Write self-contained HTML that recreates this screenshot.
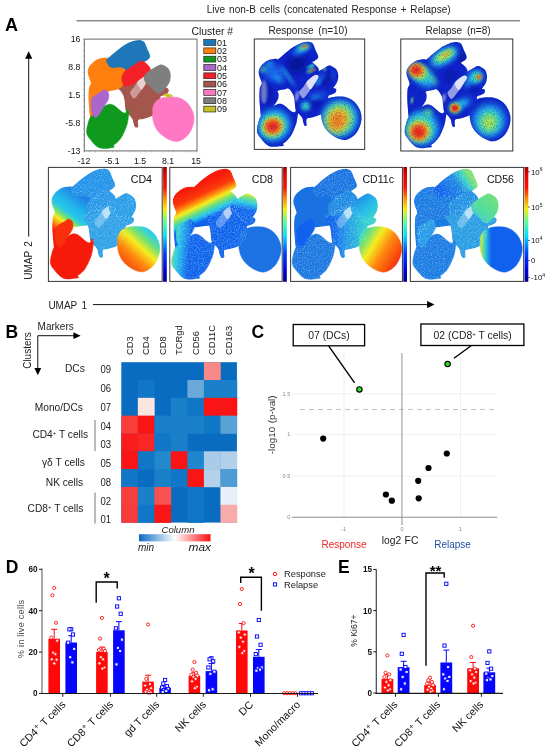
<!DOCTYPE html>
<html lang="en"><head><meta charset="utf-8"><title>Figure</title>
<style>
html,body{margin:0;padding:0;background:#fff}
svg{display:block}
svg{fill:#222}
text{font-family:"Liberation Sans",Arial,sans-serif}
.b{font-weight:bold;fill:#000}
</style></head><body>
<svg width="550" height="753" viewBox="0 0 550 753">
<rect width="550" height="753" fill="#fff"/>
<defs>
<path id="c_blue" d="M106.8 60.3C107.3 59.1 109.4 57.9 111.2 56.3C113.1 54.6 115.5 52.4 117.8 50.6C120.0 48.9 122.4 47.1 124.7 45.6C127.1 44.2 129.5 42.9 131.8 42.1C134.1 41.2 136.7 40.6 138.6 40.6C140.5 40.5 142.2 41.2 143.3 42.0C144.4 42.8 144.8 44.1 145.4 45.4C146.0 46.6 146.2 48.1 146.8 49.4C147.4 50.8 148.4 52.3 148.8 53.5C149.3 54.8 149.8 55.9 149.5 56.9C149.2 58.0 148.0 58.9 146.9 59.7C145.9 60.5 144.4 61.1 143.1 61.9C141.7 62.6 140.4 63.1 139.1 64.1C137.7 65.1 136.1 66.6 134.7 67.7C133.4 68.9 132.3 70.4 131.1 71.0C129.9 71.7 128.7 72.1 127.6 71.6C126.5 71.2 126.1 69.2 124.7 68.3C123.3 67.5 121.0 66.9 119.2 66.7C117.4 66.5 115.5 67.3 114.0 67.2C112.5 67.2 111.1 67.0 110.1 66.4C109.1 65.8 108.7 64.7 108.1 63.7C107.6 62.7 106.3 61.6 106.8 60.3Z"/>
<path id="c_orange" d="M88.7 69.5C89.0 68.2 89.8 66.7 90.8 65.5C91.7 64.3 92.9 63.2 94.2 62.2C95.4 61.2 96.9 60.1 98.3 59.6C99.6 59.0 100.8 58.8 102.3 58.6C103.8 58.4 105.9 58.0 107.0 58.3C108.1 58.5 108.5 59.2 109.0 60.2C109.6 61.2 109.3 63.2 110.5 64.1C111.6 64.9 114.1 65.3 115.9 65.5C117.6 65.7 119.5 64.7 121.1 65.0C122.7 65.3 124.7 66.1 125.7 67.1C126.7 68.1 127.3 69.8 127.1 71.1C126.9 72.4 124.9 73.7 124.6 75.0C124.3 76.4 125.5 77.6 125.3 79.1C125.1 80.5 124.2 82.5 123.4 83.8C122.5 85.2 121.5 86.3 120.2 87.3C118.9 88.2 117.4 88.9 115.6 89.5C113.8 90.0 111.2 89.9 109.5 90.5C107.8 91.1 106.5 92.2 105.1 93.3C103.7 94.4 102.2 95.8 100.9 97.1C99.5 98.4 97.9 99.4 96.8 100.9C95.7 102.3 94.8 104.2 94.3 105.9C93.7 107.6 93.9 109.3 93.7 111.0C93.5 112.8 93.6 115.2 93.1 116.2C92.6 117.1 91.3 118.1 90.7 116.8C90.2 115.5 90.0 111.1 89.8 108.4C89.5 105.7 89.3 103.3 89.2 100.7C89.1 98.1 89.1 95.0 89.2 92.8C89.3 90.5 89.3 88.9 89.7 87.3C90.1 85.8 91.5 84.8 91.5 83.2C91.5 81.5 90.2 79.2 89.7 77.6C89.2 76.0 88.7 74.9 88.5 73.5C88.3 72.2 88.3 70.8 88.7 69.5Z"/>
<path id="c_red" d="M123.3 74.2C124.1 72.9 125.3 71.7 126.6 70.5C127.9 69.4 129.4 68.4 130.9 67.4C132.4 66.4 133.9 65.6 135.5 64.6C137.0 63.6 139.0 61.9 140.4 61.5C141.8 61.1 142.7 61.7 143.9 62.3C145.0 62.9 146.3 64.1 147.3 65.1C148.4 66.2 149.7 67.5 150.0 68.7C150.4 69.8 150.2 71.1 149.5 72.1C148.7 73.2 147.0 74.1 145.7 75.0C144.4 75.8 143.1 76.4 141.7 77.4C140.2 78.3 138.5 79.5 137.0 80.5C135.5 81.6 134.0 82.9 132.5 83.7C131.1 84.5 129.7 85.1 128.4 85.5C127.2 85.9 126.0 86.5 125.1 86.0C124.1 85.5 123.4 83.8 122.9 82.6C122.4 81.3 122.1 79.8 122.1 78.4C122.2 77.0 122.6 75.5 123.3 74.2Z"/>
<path id="c_grey" d="M145.3 75.1C146.1 73.9 147.8 72.6 149.4 71.4C151.1 70.2 153.3 68.9 155.2 67.8C157.1 66.8 159.2 65.2 160.8 65.0C162.5 64.8 163.7 66.0 165.0 66.7C166.3 67.4 167.7 68.1 168.5 69.5C169.4 70.9 169.9 73.2 170.1 75.1C170.2 76.9 170.0 78.9 169.5 80.7C168.9 82.5 167.6 84.4 166.7 85.8C165.7 87.2 164.8 88.2 163.8 89.3C162.7 90.4 161.4 92.2 160.1 92.6C158.8 93.1 157.1 92.7 155.9 92.0C154.7 91.4 154.1 89.9 153.0 88.7C151.9 87.6 150.5 86.2 149.3 85.1C148.1 84.0 146.7 83.2 145.9 82.1C145.1 81.1 144.7 79.8 144.6 78.6C144.5 77.4 144.5 76.3 145.3 75.1Z"/>
<path id="c_pink" d="M152.8 107.5C153.2 106.0 154.0 104.2 154.9 102.9C155.7 101.6 156.7 100.5 158.2 99.6C159.6 98.8 161.3 98.1 163.4 97.6C165.5 97.2 168.3 96.9 170.7 96.9C173.1 96.9 175.7 97.0 178.0 97.6C180.2 98.1 182.1 99.1 183.9 100.2C185.7 101.3 187.2 102.7 188.5 104.2C189.8 105.8 190.9 107.6 191.8 109.5C192.7 111.4 193.5 113.4 193.8 115.5C194.1 117.5 194.1 119.9 193.8 122.1C193.5 124.3 192.7 126.6 191.8 128.7C190.9 130.7 189.9 132.8 188.5 134.6C187.0 136.3 185.1 138.0 183.2 139.2C181.3 140.3 179.2 141.3 177.3 141.5C175.3 141.8 173.2 141.1 171.3 140.5C169.5 139.9 167.8 139.0 166.0 137.9C164.3 136.9 162.3 135.4 160.7 134.0C159.2 132.6 157.8 131.0 156.7 129.4C155.6 127.7 154.7 126.0 154.1 124.1C153.4 122.2 153.0 120.1 152.7 118.1C152.5 116.1 152.8 113.9 152.8 112.1C152.8 110.4 152.5 109.1 152.8 107.5Z"/>
<path id="c_purple" d="M91.9 98.5C92.7 97.0 94.1 96.0 95.5 94.9C96.9 93.9 99.1 93.1 100.5 92.3C101.9 91.4 102.8 90.0 103.9 89.8C105.1 89.6 106.5 90.4 107.3 91.2C108.2 91.9 108.6 93.1 108.8 94.5C109.0 95.8 108.7 97.8 108.4 99.2C108.0 100.6 107.3 101.5 106.5 102.8C105.8 104.0 104.6 105.4 103.7 106.7C102.8 108.0 102.0 109.5 101.3 110.8C100.5 112.1 99.9 113.6 99.1 114.6C98.3 115.7 97.3 116.8 96.4 117.2C95.5 117.5 94.4 117.5 93.7 116.5C92.9 115.5 92.1 113.2 91.7 111.2C91.3 109.1 91.2 106.3 91.2 104.2C91.2 102.1 91.2 100.1 91.9 98.5Z"/>
<path id="c_green" d="M89.8 118.3C90.6 116.8 91.3 116.0 92.4 115.5C93.5 115.1 95.0 116.4 96.4 115.4C97.7 114.4 99.2 110.9 100.6 109.4C101.9 107.8 103.2 107.0 104.7 106.1C106.1 105.2 107.8 104.3 109.4 104.2C111.0 104.1 112.7 104.7 114.1 105.5C115.6 106.2 116.9 107.7 118.2 108.8C119.6 109.9 121.1 111.5 122.3 112.2C123.5 112.8 124.7 113.4 125.6 112.9C126.4 112.4 126.9 109.2 127.4 109.0C128.0 108.8 128.7 110.2 128.8 111.7C128.9 113.1 128.6 115.5 128.3 117.6C128.0 119.7 127.7 122.1 127.1 124.4C126.5 126.6 125.5 128.9 124.5 131.2C123.5 133.5 122.3 136.1 121.0 138.0C119.8 139.9 118.1 141.5 116.9 142.7C115.6 143.9 113.9 144.6 113.5 145.3C113.0 146.1 114.7 146.8 114.1 147.3C113.5 147.7 111.6 147.7 110.1 147.9C108.5 148.1 106.5 148.6 104.7 148.5C102.9 148.5 101.0 148.5 99.3 147.8C97.7 147.2 96.1 145.8 94.6 144.5C93.2 143.2 91.8 141.4 90.6 139.8C89.4 138.3 87.9 136.7 87.3 135.1C86.6 133.6 86.5 132.2 86.6 130.4C86.6 128.6 87.3 126.4 87.8 124.4C88.3 122.4 89.0 119.8 89.8 118.3Z"/>
<path id="c_brown" d="M117.4 87.1C117.7 85.8 120.6 84.0 122.7 82.8C124.8 81.5 127.6 80.5 130.1 79.4C132.6 78.3 135.0 77.6 137.7 76.2C140.4 74.9 144.1 70.9 146.2 71.2C148.4 71.6 148.9 75.7 150.6 78.3C152.3 80.9 153.9 85.1 156.2 86.7C158.6 88.3 162.6 87.7 164.5 88.1C166.5 88.5 167.5 88.5 167.9 89.2C168.4 90.0 168.0 91.8 167.3 92.7C166.6 93.6 164.7 94.1 163.5 94.7C162.3 95.2 160.8 95.1 160.2 96.0C159.6 96.9 159.8 98.3 159.8 99.9C159.8 101.4 160.6 103.5 160.3 105.4C159.9 107.3 159.0 109.8 157.5 111.5C156.0 113.2 153.9 114.4 151.5 115.5C149.1 116.6 145.4 117.7 143.2 118.3C141.0 118.9 139.2 118.6 138.2 119.3C137.2 119.9 137.4 121.2 137.3 122.3C137.2 123.5 137.9 125.5 137.7 126.3C137.4 127.0 136.2 127.3 135.6 126.8C135.1 126.4 134.5 124.8 134.2 123.6C133.8 122.4 133.9 120.9 133.4 119.7C132.9 118.5 132.1 117.4 131.2 116.3C130.4 115.3 129.2 114.6 128.3 113.6C127.5 112.5 126.7 111.8 126.2 110.1C125.7 108.3 125.8 105.3 125.4 103.0C125.1 100.6 124.9 98.1 124.2 96.0C123.5 93.9 122.2 92.1 121.1 90.6C120.0 89.1 117.2 88.4 117.4 87.1Z"/>
<path id="c_olive" d="M163.7 94.8C163.6 94.2 166.7 93.7 168.2 93.9C169.7 94.1 172.5 95.2 172.6 95.8C172.7 96.4 170.3 97.5 168.8 97.3C167.3 97.2 163.8 95.4 163.7 94.8Z"/>
<path id="c_notch" d="M130.0 92.5C129.9 91.4 130.8 91.0 131.5 90.0C132.2 89.0 133.3 88.2 134.3 86.8C135.3 85.4 136.4 83.1 137.7 81.6C139.0 80.0 140.8 78.6 142.3 77.5C143.9 76.4 145.8 75.1 147.0 75.0C148.2 74.9 149.8 75.5 149.5 77.0C149.2 78.5 146.9 81.8 145.5 84.0C144.1 86.2 142.4 88.5 141.0 90.5C139.6 92.5 138.2 94.7 137.0 96.0C135.8 97.3 134.9 98.4 134.0 98.5C133.1 98.6 132.5 97.5 131.8 96.5C131.1 95.5 130.1 93.6 130.0 92.5Z"/>
<path id="c_notchtop" d="M138.0 81.2C138.8 80.1 140.8 78.3 142.3 77.2C143.8 76.1 145.7 74.7 147.0 74.6C148.3 74.5 150.2 75.1 150.0 76.6C149.8 78.1 147.3 81.3 146.0 83.5C144.7 85.7 143.1 88.8 142.0 89.5C140.9 90.2 140.2 88.4 139.5 87.5C138.8 86.6 137.8 85.0 137.5 84.0C137.2 83.0 137.2 82.3 138.0 81.2Z"/>
<path id="c_filler" d="M100.0 86.0C102.0 84.5 108.0 86.0 112.0 86.0C116.0 86.0 121.8 84.6 124.0 86.0C126.2 87.4 126.5 92.8 125.5 94.5C124.5 96.2 121.2 96.0 118.0 96.5C114.8 97.0 109.0 97.8 106.0 97.5C103.0 97.2 101.0 96.9 100.0 95.0C99.0 93.1 98.0 87.5 100.0 86.0Z"/>
<clipPath id="cp_blue"><use href="#c_blue"/></clipPath>
<clipPath id="cp_orange"><use href="#c_orange"/></clipPath>
<clipPath id="cp_red"><use href="#c_red"/></clipPath>
<clipPath id="cp_grey"><use href="#c_grey"/></clipPath>
<clipPath id="cp_pink"><use href="#c_pink"/></clipPath>
<clipPath id="cp_purple"><use href="#c_purple"/></clipPath>
<clipPath id="cp_green"><use href="#c_green"/></clipPath>
<clipPath id="cp_brown"><use href="#c_brown"/></clipPath>
<clipPath id="sil">
<use href="#c_blue"/>
<use href="#c_orange"/>
<use href="#c_red"/>
<use href="#c_grey"/>
<use href="#c_pink"/>
<use href="#c_purple"/>
<use href="#c_green"/>
<use href="#c_brown"/>
</clipPath>
<filter id="bl2" x="-30%" y="-30%" width="160%" height="160%"><feGaussianBlur stdDeviation="2"/></filter>
<filter id="bl3" x="-30%" y="-30%" width="160%" height="160%"><feGaussianBlur stdDeviation="3.2"/></filter>
<filter id="nz" x="0" y="0" width="100%" height="100%"><feTurbulence type="fractalNoise" baseFrequency="0.85" numOctaves="2" seed="3" result="t"/><feColorMatrix in="t" type="matrix" values="0 0 0 0 0.55  0 0 0 0 0.95  0 0 0 0 0.9  0 0 0 2.6 -1.15"/></filter>
<filter id="nzd" x="0" y="0" width="100%" height="100%"><feTurbulence type="fractalNoise" baseFrequency="0.9" numOctaves="2" seed="8" result="t"/><feColorMatrix in="t" type="matrix" values="0 0 0 0 0.02  0 0 0 0 0.03  0 0 0 0 0.5  0 0 0 2.8 -1.2"/></filter>
<filter id="bl1" x="-30%" y="-30%" width="160%" height="160%"><feGaussianBlur stdDeviation="1.1"/></filter>
<linearGradient id="jetbar" gradientUnits="objectBoundingBox" x1="0.0" y1="0.0" x2="0.0" y2="1.0"><stop offset="0.000" stop-color="#900000"/><stop offset="0.050" stop-color="#e00000"/><stop offset="0.180" stop-color="#ff1000"/><stop offset="0.280" stop-color="#ff9000"/><stop offset="0.370" stop-color="#f0f000"/><stop offset="0.470" stop-color="#60ff90"/><stop offset="0.600" stop-color="#00e0ff"/><stop offset="0.750" stop-color="#0040ff"/><stop offset="0.900" stop-color="#0000e0"/><stop offset="1.000" stop-color="#00008f"/></linearGradient>
<linearGradient id="cd4_orange" gradientUnits="userSpaceOnUse" x1="116.0" y1="66.0" x2="86.0" y2="106.0"><stop offset="0.000" stop-color="#1f7fe6"/><stop offset="0.250" stop-color="#22b4ea"/><stop offset="0.420" stop-color="#28c8e8"/><stop offset="0.520" stop-color="#6fe07a"/><stop offset="0.620" stop-color="#f4ee20"/><stop offset="0.740" stop-color="#ff8a10"/><stop offset="0.860" stop-color="#f81a0a"/><stop offset="1.000" stop-color="#f81a0a"/></linearGradient>
<linearGradient id="cd4_pink" gradientUnits="userSpaceOnUse" x1="192.0" y1="100.0" x2="158.0" y2="138.0"><stop offset="0.000" stop-color="#2a8cf0"/><stop offset="0.140" stop-color="#2ad0e8"/><stop offset="0.300" stop-color="#6fe07a"/><stop offset="0.470" stop-color="#f4ee20"/><stop offset="0.680" stop-color="#ff8a10"/><stop offset="1.000" stop-color="#f83a10"/></linearGradient>
<linearGradient id="cd8_main" gradientUnits="userSpaceOnUse" x1="115.1" y1="54.5" x2="130.3" y2="86.3"><stop offset="0.000" stop-color="#f81a0a"/><stop offset="0.280" stop-color="#fa3a0a"/><stop offset="0.420" stop-color="#ff8a10"/><stop offset="0.550" stop-color="#f4ee20"/><stop offset="0.690" stop-color="#6fe07a"/><stop offset="0.830" stop-color="#28c8e8"/><stop offset="0.970" stop-color="#1062ee"/><stop offset="1.000" stop-color="#1062ee"/></linearGradient>
<linearGradient id="cd8_grey" gradientUnits="userSpaceOnUse" x1="160.0" y1="64.0" x2="156.0" y2="84.0"><stop offset="0.000" stop-color="#f4ee20"/><stop offset="0.200" stop-color="#6fe07a"/><stop offset="0.450" stop-color="#28c8e8"/><stop offset="0.800" stop-color="#1062ee"/><stop offset="1.000" stop-color="#1062ee"/></linearGradient>
<linearGradient id="cd8_green" gradientUnits="userSpaceOnUse" x1="86.0" y1="120.0" x2="104.0" y2="122.0"><stop offset="0.000" stop-color="#6fe07a"/><stop offset="0.350" stop-color="#28c8e8"/><stop offset="1.000" stop-color="#1062ee"/></linearGradient>
<linearGradient id="c11_pink" gradientUnits="userSpaceOnUse" x1="154.0" y1="104.0" x2="192.0" y2="128.0"><stop offset="0.000" stop-color="#38d8c0"/><stop offset="0.140" stop-color="#6fe07a"/><stop offset="0.360" stop-color="#f4ee20"/><stop offset="0.620" stop-color="#ff8a10"/><stop offset="1.000" stop-color="#f8360c"/></linearGradient>
<linearGradient id="c11_grey" gradientUnits="userSpaceOnUse" x1="150.0" y1="70.0" x2="168.0" y2="92.0"><stop offset="0.000" stop-color="#2090e8"/><stop offset="0.500" stop-color="#28c0e8"/><stop offset="1.000" stop-color="#40dcc0"/></linearGradient>
<linearGradient id="c11_brown" gradientUnits="userSpaceOnUse" x1="126.0" y1="100.0" x2="160.0" y2="100.0"><stop offset="0.000" stop-color="#1062ee"/><stop offset="0.400" stop-color="#2498e8"/><stop offset="1.000" stop-color="#30d0d0"/></linearGradient>
<linearGradient id="c56_grey" gradientUnits="userSpaceOnUse" x1="146.0" y1="90.0" x2="166.0" y2="68.0"><stop offset="0.000" stop-color="#30b8e0"/><stop offset="0.400" stop-color="#50dca0"/><stop offset="1.000" stop-color="#70e080"/></linearGradient>
<linearGradient id="c56_blue" gradientUnits="userSpaceOnUse" x1="120.0" y1="70.0" x2="146.0" y2="52.0"><stop offset="0.000" stop-color="#1062ee"/><stop offset="0.550" stop-color="#2088e6"/><stop offset="0.800" stop-color="#38d0c8"/><stop offset="1.000" stop-color="#80e070"/></linearGradient>
<linearGradient id="c56_pink" gradientUnits="userSpaceOnUse" x1="154.0" y1="118.0" x2="170.0" y2="118.0"><stop offset="0.000" stop-color="#b0e850"/><stop offset="0.250" stop-color="#30c8d8"/><stop offset="0.600" stop-color="#1062ee"/><stop offset="1.000" stop-color="#1062ee"/></linearGradient>
<linearGradient id="hm" x1="0" y1="0" x2="1" y2="0"><stop offset="0" stop-color="#0a6cc4"/><stop offset="0.5" stop-color="#ffffff"/><stop offset="1" stop-color="#fa1010"/></linearGradient>
</defs>
<text x="5" y="31" class="b" font-size="18">A</text>
<text x="328.7" y="13" font-size="10" text-anchor="middle" textLength="244" lengthAdjust="spacing" style="word-spacing:1px">Live non-B cells (concatenated Response + Relapse)</text>
<rect x="76.5" y="20" width="443.5" height="1.5" fill="#8a8a8a"/>
<rect x="84.3" y="39.1" width="112.7" height="111.8" fill="#fff" stroke="#686868" stroke-width="1"/>
<use href="#c_brown" fill="#a5564c" stroke="#a5564c" stroke-width="1.2" stroke-linejoin="round"/>
<use href="#c_notch" fill="#fbeeee" fill-opacity="0.45"/><use href="#c_notchtop" fill="#fdf4f4" fill-opacity="0.6"/>
<use href="#c_orange" fill="#ff7f0e" stroke="#ff7f0e" stroke-width="1.2" stroke-linejoin="round"/>
<use href="#c_blue" fill="#1f77b9" stroke="#1f77b9" stroke-width="1.2" stroke-linejoin="round"/>
<use href="#c_red" fill="#f42028" stroke="#f42028" stroke-width="1.2" stroke-linejoin="round"/>
<use href="#c_grey" fill="#7f7f7f" stroke="#7f7f7f" stroke-width="1.2" stroke-linejoin="round"/>
<use href="#c_green" fill="#0f9a1e" stroke="#0f9a1e" stroke-width="0.5" stroke-linejoin="round"/>
<use href="#c_purple" fill="#aa66cc" stroke="#aa66cc" stroke-width="0.5" stroke-linejoin="round"/>
<use href="#c_pink" fill="#ff78c4" stroke="#ff78c4" stroke-width="0.5" stroke-linejoin="round"/>
<use href="#c_olive" fill="#c4c424" stroke="#c4c424" stroke-width="0.5" stroke-linejoin="round"/>
<rect x="82.8" y="38.9" width="1.5" height="0.6" fill="#999"/><rect x="84.0" y="150.9" width="0.6" height="1.5" fill="#999"/>
<rect x="82.8" y="44.5" width="1.5" height="0.6" fill="#999"/><rect x="89.6" y="150.9" width="0.6" height="1.5" fill="#999"/>
<rect x="82.8" y="50.1" width="1.5" height="0.6" fill="#999"/><rect x="95.2" y="150.9" width="0.6" height="1.5" fill="#999"/>
<rect x="82.8" y="55.7" width="1.5" height="0.6" fill="#999"/><rect x="100.8" y="150.9" width="0.6" height="1.5" fill="#999"/>
<rect x="82.8" y="61.3" width="1.5" height="0.6" fill="#999"/><rect x="106.4" y="150.9" width="0.6" height="1.5" fill="#999"/>
<rect x="82.8" y="66.9" width="1.5" height="0.6" fill="#999"/><rect x="112.0" y="150.9" width="0.6" height="1.5" fill="#999"/>
<rect x="82.8" y="72.5" width="1.5" height="0.6" fill="#999"/><rect x="117.6" y="150.9" width="0.6" height="1.5" fill="#999"/>
<rect x="82.8" y="78.1" width="1.5" height="0.6" fill="#999"/><rect x="123.2" y="150.9" width="0.6" height="1.5" fill="#999"/>
<rect x="82.8" y="83.7" width="1.5" height="0.6" fill="#999"/><rect x="128.8" y="150.9" width="0.6" height="1.5" fill="#999"/>
<rect x="82.8" y="89.3" width="1.5" height="0.6" fill="#999"/><rect x="134.4" y="150.9" width="0.6" height="1.5" fill="#999"/>
<rect x="82.8" y="94.9" width="1.5" height="0.6" fill="#999"/><rect x="140.0" y="150.9" width="0.6" height="1.5" fill="#999"/>
<rect x="82.8" y="100.5" width="1.5" height="0.6" fill="#999"/><rect x="145.6" y="150.9" width="0.6" height="1.5" fill="#999"/>
<rect x="82.8" y="106.1" width="1.5" height="0.6" fill="#999"/><rect x="151.2" y="150.9" width="0.6" height="1.5" fill="#999"/>
<rect x="82.8" y="111.7" width="1.5" height="0.6" fill="#999"/><rect x="156.8" y="150.9" width="0.6" height="1.5" fill="#999"/>
<rect x="82.8" y="117.3" width="1.5" height="0.6" fill="#999"/><rect x="162.4" y="150.9" width="0.6" height="1.5" fill="#999"/>
<rect x="82.8" y="122.9" width="1.5" height="0.6" fill="#999"/><rect x="168.0" y="150.9" width="0.6" height="1.5" fill="#999"/>
<rect x="82.8" y="128.5" width="1.5" height="0.6" fill="#999"/><rect x="173.6" y="150.9" width="0.6" height="1.5" fill="#999"/>
<rect x="82.8" y="134.1" width="1.5" height="0.6" fill="#999"/><rect x="179.2" y="150.9" width="0.6" height="1.5" fill="#999"/>
<rect x="82.8" y="139.7" width="1.5" height="0.6" fill="#999"/><rect x="184.8" y="150.9" width="0.6" height="1.5" fill="#999"/>
<rect x="82.8" y="145.3" width="1.5" height="0.6" fill="#999"/><rect x="190.4" y="150.9" width="0.6" height="1.5" fill="#999"/>
<rect x="82.8" y="150.9" width="1.5" height="0.6" fill="#999"/><rect x="196.0" y="150.9" width="0.6" height="1.5" fill="#999"/>
<text x="80.3" y="41.6" font-size="8.7" text-anchor="end" fill="#111">16</text>
<text x="80.3" y="69.6" font-size="8.7" text-anchor="end" fill="#111">8.8</text>
<text x="80.3" y="97.6" font-size="8.7" text-anchor="end" fill="#111">1.5</text>
<text x="80.3" y="125.6" font-size="8.7" text-anchor="end" fill="#111">-5.8</text>
<text x="80.3" y="153.6" font-size="8.7" text-anchor="end" fill="#111">-13</text>
<text x="84.0" y="163.8" font-size="8.7" text-anchor="middle" fill="#111">-12</text>
<text x="112.0" y="163.8" font-size="8.7" text-anchor="middle" fill="#111">-5.1</text>
<text x="140.0" y="163.8" font-size="8.7" text-anchor="middle" fill="#111">1.5</text>
<text x="168.0" y="163.8" font-size="8.7" text-anchor="middle" fill="#111">8.1</text>
<text x="196.0" y="163.8" font-size="8.7" text-anchor="middle" fill="#111">15</text>
<text x="191.5" y="35" font-size="10.4">Cluster #</text>
<rect x="203.8" y="39.60" width="12" height="5.8" fill="#1f77b9" stroke="#222" stroke-width="0.7"/>
<text x="217" y="45.80" font-size="9" fill="#111">01</text>
<rect x="203.8" y="47.92" width="12" height="5.8" fill="#ff7f0e" stroke="#222" stroke-width="0.7"/>
<text x="217" y="54.12" font-size="9" fill="#111">02</text>
<rect x="203.8" y="56.24" width="12" height="5.8" fill="#0f9a1e" stroke="#222" stroke-width="0.7"/>
<text x="217" y="62.44" font-size="9" fill="#111">03</text>
<rect x="203.8" y="64.56" width="12" height="5.8" fill="#aa66cc" stroke="#222" stroke-width="0.7"/>
<text x="217" y="70.76" font-size="9" fill="#111">04</text>
<rect x="203.8" y="72.88" width="12" height="5.8" fill="#f42028" stroke="#222" stroke-width="0.7"/>
<text x="217" y="79.08" font-size="9" fill="#111">05</text>
<rect x="203.8" y="81.20" width="12" height="5.8" fill="#a5564c" stroke="#222" stroke-width="0.7"/>
<text x="217" y="87.40" font-size="9" fill="#111">06</text>
<rect x="203.8" y="89.52" width="12" height="5.8" fill="#ff78c4" stroke="#222" stroke-width="0.7"/>
<text x="217" y="95.72" font-size="9" fill="#111">07</text>
<rect x="203.8" y="97.84" width="12" height="5.8" fill="#7f7f7f" stroke="#222" stroke-width="0.7"/>
<text x="217" y="104.04" font-size="9" fill="#111">08</text>
<rect x="203.8" y="106.16" width="12" height="5.8" fill="#c4c424" stroke="#222" stroke-width="0.7"/>
<text x="217" y="112.36" font-size="9" fill="#111">09</text>
<rect x="254.3" y="39" width="110.4" height="110.4" fill="#fff" stroke="#333" stroke-width="1"/>
<clipPath id="fr_254"><rect x="254.8" y="39.5" width="109.4" height="109.4"/></clipPath>
<clipPath id="silp_254" transform="translate(258 42.8) scale(0.974) translate(-87.7 -41.7)"><use href="#c_blue"/><use href="#c_orange"/><use href="#c_red"/><use href="#c_grey"/><use href="#c_pink"/><use href="#c_purple"/><use href="#c_green"/><use href="#c_brown"/></clipPath>
<g clip-path="url(#fr_254)">
<g transform="translate(258.00 42.80) scale(0.9740) translate(-87.7 -41.7)" clip-path="url(#sil)">
<rect x="80" y="36" width="120" height="118" fill="#0c22c8"/>
</g>
<g clip-path="url(#silp_254)">
<ellipse cx="297.0" cy="64.0" rx="11.0" ry="8.4" transform="rotate(-30 297.0 64.0)" fill="#070a8c" fill-opacity="0.85" filter="url(#bl3)"/>
<ellipse cx="327.0" cy="79.0" rx="4.0" ry="6.4" transform="rotate(15 327.0 79.0)" fill="#070a8c" fill-opacity="0.80" filter="url(#bl3)"/>
<ellipse cx="314.0" cy="103.0" rx="9.0" ry="4.4" transform="rotate(-25 314.0 103.0)" fill="#070a8c" fill-opacity="0.50" filter="url(#bl3)"/>
<ellipse cx="266.0" cy="93.0" rx="4.4" ry="12.0" transform="rotate(0 266.0 93.0)" fill="#070a8c" fill-opacity="0.70" filter="url(#bl3)"/>
<ellipse cx="274.0" cy="73.0" rx="12.4" ry="8.0" transform="rotate(30 274.0 73.0)" fill="#1a78f2" fill-opacity="0.90" filter="url(#bl3)"/>
<ellipse cx="288.0" cy="76.0" rx="12.4" ry="1.8" transform="rotate(55 288.0 76.0)" fill="#20b0f0" fill-opacity="0.90" filter="url(#bl2)"/>
<ellipse cx="301.0" cy="50.0" rx="10.0" ry="4.0" transform="rotate(-25 301.0 50.0)" fill="#1a78f2" fill-opacity="0.90" filter="url(#bl2)"/>
<ellipse cx="320.0" cy="79.0" rx="2.4" ry="8.0" transform="rotate(35 320.0 79.0)" fill="#1a78f2" fill-opacity="0.85" filter="url(#bl2)"/>
<ellipse cx="318.0" cy="96.0" rx="10.0" ry="3.2" transform="rotate(-10 318.0 96.0)" fill="#1a78f2" fill-opacity="0.80" filter="url(#bl3)"/>
<ellipse cx="333.0" cy="75.0" rx="1.6" ry="6.0" transform="rotate(5 333.0 75.0)" fill="#1a78f2" fill-opacity="0.70" filter="url(#bl2)"/>
<ellipse cx="263.0" cy="69.4" rx="2.8" ry="2.8" transform="rotate(0 263.0 69.4)" fill="#5af08a" fill-opacity="0.85" filter="url(#bl2)"/>
<ellipse cx="269.6" cy="64.0" rx="3.6" ry="2.2" transform="rotate(-20 269.6 64.0)" fill="#22d4ec" fill-opacity="0.80" filter="url(#bl2)"/>
<ellipse cx="278.0" cy="79.0" rx="6.0" ry="2.0" transform="rotate(40 278.0 79.0)" fill="#22d4ec" fill-opacity="0.50" filter="url(#bl2)"/>
<ellipse cx="303.0" cy="48.0" rx="6.8" ry="2.8" transform="rotate(-20 303.0 48.0)" fill="#22d4ec" fill-opacity="0.90" filter="url(#bl2)"/>
<ellipse cx="303.6" cy="47.4" rx="5.4" ry="2.2" transform="rotate(-20 303.6 47.4)" fill="#5af08a" fill-opacity="0.95" filter="url(#bl2)"/>
<ellipse cx="304.8" cy="46.6" rx="3.6" ry="1.4" transform="rotate(-15 304.8 46.6)" fill="#ff7a12" fill-opacity="0.95" filter="url(#bl1)"/>
<ellipse cx="310.6" cy="66.4" rx="4.4" ry="1.4" transform="rotate(-25 310.6 66.4)" fill="#22d4ec" fill-opacity="0.95" filter="url(#bl1)"/>
<ellipse cx="312.0" cy="66.0" rx="2.4" ry="0.8" transform="rotate(-25 312.0 66.0)" fill="#5af08a" fill-opacity="0.95" filter="url(#bl1)"/>
<ellipse cx="311.0" cy="70.6" rx="4.8" ry="1.6" transform="rotate(-25 311.0 70.6)" fill="#5af08a" fill-opacity="0.95" filter="url(#bl1)"/>
<ellipse cx="312.6" cy="70.2" rx="2.6" ry="1.0" transform="rotate(-25 312.6 70.2)" fill="#f6200a" fill-opacity="0.95" filter="url(#bl1)"/>
<ellipse cx="324.4" cy="69.0" rx="2.0" ry="1.8" transform="rotate(0 324.4 69.0)" fill="#5af08a" fill-opacity="0.85" filter="url(#bl1)"/>
<ellipse cx="318.0" cy="82.0" rx="2.4" ry="2.4" transform="rotate(0 318.0 82.0)" fill="#22d4ec" fill-opacity="0.70" filter="url(#bl2)"/>
<ellipse cx="315.0" cy="97.0" rx="4.0" ry="1.8" transform="rotate(-10 315.0 97.0)" fill="#22d4ec" fill-opacity="0.60" filter="url(#bl2)"/>
<ellipse cx="305.6" cy="106.0" rx="4.8" ry="4.4" transform="rotate(0 305.6 106.0)" fill="#22d4ec" fill-opacity="0.95" filter="url(#bl2)"/>
<ellipse cx="305.6" cy="106.6" rx="2.6" ry="2.4" transform="rotate(0 305.6 106.6)" fill="#5af08a" fill-opacity="0.85" filter="url(#bl2)"/>
<ellipse cx="274.0" cy="125.0" rx="16.4" ry="15.6" transform="rotate(-30 274.0 125.0)" fill="#1aa0f2" fill-opacity="0.95" filter="url(#bl3)"/>
<ellipse cx="273.6" cy="125.8" rx="14.0" ry="12.8" transform="rotate(-30 273.6 125.8)" fill="#22d4ec" fill-opacity="0.90" filter="url(#bl3)"/>
<ellipse cx="273.2" cy="126.2" rx="12.0" ry="10.8" transform="rotate(-30 273.2 126.2)" fill="#5af08a" fill-opacity="0.95" filter="url(#bl2)"/>
<ellipse cx="273.0" cy="126.4" rx="10.0" ry="9.0" transform="rotate(-20 273.0 126.4)" fill="#f2f022" fill-opacity="0.95" filter="url(#bl2)"/>
<ellipse cx="273.0" cy="126.4" rx="8.4" ry="7.4" transform="rotate(-10 273.0 126.4)" fill="#ff7a12" fill-opacity="0.98" filter="url(#bl2)"/>
<ellipse cx="272.6" cy="126.4" rx="5.8" ry="5.2" transform="rotate(0 272.6 126.4)" fill="#f6200a" fill-opacity="0.95" filter="url(#bl2)"/>
<ellipse cx="340.0" cy="118.0" rx="18.0" ry="18.0" transform="rotate(0 340.0 118.0)" fill="#1a94f2" fill-opacity="0.95" filter="url(#bl3)"/>
<ellipse cx="339.6" cy="118.6" rx="15.6" ry="16.4" transform="rotate(20 339.6 118.6)" fill="#22d4ec" fill-opacity="0.85" filter="url(#bl3)"/>
<ellipse cx="339.0" cy="119.0" rx="13.6" ry="14.8" transform="rotate(20 339.0 119.0)" fill="#5af08a" fill-opacity="0.90" filter="url(#bl3)"/>
<ellipse cx="338.4" cy="119.6" rx="11.0" ry="12.8" transform="rotate(25 338.4 119.6)" fill="#f2f022" fill-opacity="0.92" filter="url(#bl3)"/>
<ellipse cx="337.6" cy="120.6" rx="8.0" ry="10.0" transform="rotate(25 337.6 120.6)" fill="#ff7a12" fill-opacity="0.90" filter="url(#bl3)"/>
<rect x="254.0" y="39.0" width="112" height="112" filter="url(#nzd)" opacity="0.45"/>
</g>
<g transform="translate(258.00 42.80) scale(0.9740) translate(-87.7 -41.7)">
<use href="#c_notch" fill="#fff" fill-opacity="0.55"/><use href="#c_notchtop" fill="#fff" fill-opacity="0.7"/>
</g>
<ellipse cx="264.0" cy="92.0" rx="3.2" ry="12.0" transform="rotate(0 264.0 92.0)" fill="#fff" fill-opacity="0.40" filter="url(#bl1)"/>
<ellipse cx="297.0" cy="96.0" rx="1.8" ry="5.2" transform="rotate(10 297.0 96.0)" fill="#fff" fill-opacity="0.50" filter="url(#bl1)"/>
</g>
<text x="308" y="33.6" font-size="10" text-anchor="middle" style="word-spacing:2px">Response (n=10)</text>
<rect x="400.8" y="39" width="112" height="112" fill="#fff" stroke="#333" stroke-width="1"/>
<clipPath id="fr_401"><rect x="401.3" y="39.5" width="111" height="111"/></clipPath>
<clipPath id="silp_401" transform="translate(405.8 43) scale(0.985) translate(-87.7 -41.7)"><use href="#c_blue"/><use href="#c_orange"/><use href="#c_red"/><use href="#c_grey"/><use href="#c_pink"/><use href="#c_purple"/><use href="#c_green"/><use href="#c_brown"/></clipPath>
<g clip-path="url(#fr_401)">
<g transform="translate(405.80 43.00) scale(0.9850) translate(-87.7 -41.7)" clip-path="url(#sil)">
<rect x="80" y="36" width="120" height="118" fill="#0c22c8"/>
</g>
<g clip-path="url(#silp_401)">
<ellipse cx="431.0" cy="72.0" rx="2.8" ry="11.0" transform="rotate(-35 431.0 72.0)" fill="#070a8c" fill-opacity="0.85" filter="url(#bl2)"/>
<ellipse cx="461.0" cy="57.0" rx="2.8" ry="6.0" transform="rotate(0 461.0 57.0)" fill="#070a8c" fill-opacity="0.80" filter="url(#bl2)"/>
<ellipse cx="450.0" cy="76.0" rx="6.0" ry="4.0" transform="rotate(-30 450.0 76.0)" fill="#070a8c" fill-opacity="0.70" filter="url(#bl3)"/>
<ellipse cx="482.0" cy="107.0" rx="8.0" ry="4.4" transform="rotate(-20 482.0 107.0)" fill="#070a8c" fill-opacity="0.75" filter="url(#bl3)"/>
<ellipse cx="475.0" cy="88.0" rx="2.4" ry="6.0" transform="rotate(20 475.0 88.0)" fill="#070a8c" fill-opacity="0.60" filter="url(#bl2)"/>
<ellipse cx="409.0" cy="120.0" rx="2.8" ry="12.0" transform="rotate(10 409.0 120.0)" fill="#070a8c" fill-opacity="0.50" filter="url(#bl3)"/>
<ellipse cx="444.0" cy="57.0" rx="15.6" ry="7.2" transform="rotate(-30 444.0 57.0)" fill="#1a78f2" fill-opacity="0.95" filter="url(#bl3)"/>
<ellipse cx="444.0" cy="56.4" rx="13.6" ry="6.0" transform="rotate(-30 444.0 56.4)" fill="#22d4ec" fill-opacity="0.95" filter="url(#bl3)"/>
<ellipse cx="444.0" cy="56.0" rx="11.6" ry="4.6" transform="rotate(-30 444.0 56.0)" fill="#5af08a" fill-opacity="0.95" filter="url(#bl2)"/>
<ellipse cx="445.0" cy="55.2" rx="8.4" ry="2.8" transform="rotate(-30 445.0 55.2)" fill="#f2f022" fill-opacity="0.90" filter="url(#bl2)"/>
<ellipse cx="446.0" cy="54.4" rx="4.8" ry="1.4" transform="rotate(-30 446.0 54.4)" fill="#ff7a12" fill-opacity="0.70" filter="url(#bl2)"/>
<ellipse cx="423.0" cy="76.0" rx="15.6" ry="8.4" transform="rotate(38 423.0 76.0)" fill="#1a78f2" fill-opacity="0.95" filter="url(#bl3)"/>
<ellipse cx="422.0" cy="75.0" rx="13.6" ry="7.2" transform="rotate(38 422.0 75.0)" fill="#22d4ec" fill-opacity="0.95" filter="url(#bl3)"/>
<ellipse cx="419.4" cy="72.4" rx="10.0" ry="7.2" transform="rotate(30 419.4 72.4)" fill="#5af08a" fill-opacity="0.95" filter="url(#bl2)"/>
<ellipse cx="417.4" cy="71.0" rx="8.4" ry="6.6" transform="rotate(25 417.4 71.0)" fill="#f2f022" fill-opacity="0.95" filter="url(#bl2)"/>
<ellipse cx="416.6" cy="70.4" rx="7.0" ry="5.6" transform="rotate(20 416.6 70.4)" fill="#ff7a12" fill-opacity="0.98" filter="url(#bl2)"/>
<ellipse cx="416.0" cy="70.0" rx="5.2" ry="4.2" transform="rotate(0 416.0 70.0)" fill="#f6200a" fill-opacity="0.95" filter="url(#bl2)"/>
<ellipse cx="433.0" cy="80.0" rx="5.6" ry="2.0" transform="rotate(45 433.0 80.0)" fill="#5af08a" fill-opacity="0.75" filter="url(#bl2)"/>
<ellipse cx="475.0" cy="77.0" rx="8.4" ry="7.2" transform="rotate(-35 475.0 77.0)" fill="#1a78f2" fill-opacity="0.90" filter="url(#bl3)"/>
<ellipse cx="475.4" cy="77.0" rx="6.6" ry="5.4" transform="rotate(-35 475.4 77.0)" fill="#22d4ec" fill-opacity="0.95" filter="url(#bl2)"/>
<ellipse cx="477.0" cy="77.0" rx="4.8" ry="4.0" transform="rotate(-30 477.0 77.0)" fill="#5af08a" fill-opacity="0.90" filter="url(#bl2)"/>
<ellipse cx="479.0" cy="77.0" rx="2.8" ry="2.4" transform="rotate(0 479.0 77.0)" fill="#ff7a12" fill-opacity="0.95" filter="url(#bl1)"/>
<ellipse cx="468.0" cy="83.0" rx="2.0" ry="5.2" transform="rotate(30 468.0 83.0)" fill="#22d4ec" fill-opacity="0.70" filter="url(#bl2)"/>
<ellipse cx="463.0" cy="103.0" rx="9.6" ry="4.4" transform="rotate(-25 463.0 103.0)" fill="#1a78f2" fill-opacity="0.90" filter="url(#bl3)"/>
<ellipse cx="461.0" cy="104.0" rx="7.6" ry="3.2" transform="rotate(-25 461.0 104.0)" fill="#22d4ec" fill-opacity="0.85" filter="url(#bl2)"/>
<ellipse cx="455.0" cy="108.0" rx="6.0" ry="5.4" transform="rotate(0 455.0 108.0)" fill="#5af08a" fill-opacity="0.95" filter="url(#bl2)"/>
<ellipse cx="455.0" cy="108.0" rx="4.8" ry="4.4" transform="rotate(0 455.0 108.0)" fill="#f2f022" fill-opacity="0.98" filter="url(#bl1)"/>
<ellipse cx="455.0" cy="108.2" rx="3.8" ry="3.4" transform="rotate(0 455.0 108.2)" fill="#f6200a" fill-opacity="0.98" filter="url(#bl1)"/>
<ellipse cx="489.0" cy="120.0" rx="17.6" ry="17.6" transform="rotate(0 489.0 120.0)" fill="#1a78f2" fill-opacity="0.90" filter="url(#bl3)"/>
<ellipse cx="489.0" cy="121.0" rx="13.2" ry="13.6" transform="rotate(0 489.0 121.0)" fill="#22d4ec" fill-opacity="0.90" filter="url(#bl3)"/>
<ellipse cx="489.0" cy="122.0" rx="9.6" ry="10.4" transform="rotate(10 489.0 122.0)" fill="#5af08a" fill-opacity="0.90" filter="url(#bl3)"/>
<ellipse cx="489.0" cy="122.4" rx="5.6" ry="6.4" transform="rotate(10 489.0 122.4)" fill="#f2f022" fill-opacity="0.75" filter="url(#bl3)"/>
<ellipse cx="422.0" cy="128.0" rx="16.8" ry="16.8" transform="rotate(-30 422.0 128.0)" fill="#1aa0f2" fill-opacity="0.95" filter="url(#bl3)"/>
<ellipse cx="421.0" cy="128.0" rx="14.0" ry="14.4" transform="rotate(-30 421.0 128.0)" fill="#22d4ec" fill-opacity="0.90" filter="url(#bl3)"/>
<ellipse cx="420.0" cy="129.6" rx="12.0" ry="11.6" transform="rotate(-20 420.0 129.6)" fill="#5af08a" fill-opacity="0.95" filter="url(#bl3)"/>
<ellipse cx="419.4" cy="131.0" rx="10.4" ry="10.0" transform="rotate(0 419.4 131.0)" fill="#f2f022" fill-opacity="0.95" filter="url(#bl2)"/>
<ellipse cx="419.0" cy="131.6" rx="8.6" ry="8.2" transform="rotate(0 419.0 131.6)" fill="#ff7a12" fill-opacity="0.98" filter="url(#bl2)"/>
<ellipse cx="418.6" cy="132.0" rx="5.8" ry="5.6" transform="rotate(0 418.6 132.0)" fill="#f6200a" fill-opacity="0.92" filter="url(#bl2)"/>
<ellipse cx="428.0" cy="113.0" rx="4.8" ry="4.0" transform="rotate(-30 428.0 113.0)" fill="#5af08a" fill-opacity="0.80" filter="url(#bl2)"/>
<ellipse cx="412.0" cy="100.4" rx="1.0" ry="3.6" transform="rotate(10 412.0 100.4)" fill="#5af08a" fill-opacity="0.90" filter="url(#bl1)"/>
<ellipse cx="412.0" cy="100.4" rx="0.5" ry="2.0" transform="rotate(10 412.0 100.4)" fill="#f2f022" fill-opacity="0.90" filter="url(#bl1)"/>
<rect x="401.0" y="40.0" width="112" height="112" filter="url(#nzd)" opacity="0.45"/>
</g>
<g transform="translate(405.80 43.00) scale(0.9850) translate(-87.7 -41.7)">
<use href="#c_notch" fill="#fff" fill-opacity="0.55"/><use href="#c_notchtop" fill="#fff" fill-opacity="0.7"/>
</g>
<ellipse cx="444.0" cy="98.0" rx="1.6" ry="4.4" transform="rotate(10 444.0 98.0)" fill="#fff" fill-opacity="0.50" filter="url(#bl1)"/>
</g>
<text x="458" y="33.6" font-size="10" text-anchor="middle" style="word-spacing:2px">Relapse (n=8)</text>
<rect x="48.4" y="167.4" width="113.8" height="114" fill="#fff" stroke="#333" stroke-width="1"/>
<rect x="163.1" y="167" width="3.7" height="114.8" fill="url(#jetbar)"/>
<g transform="translate(51.50 170.20) scale(1.0180) translate(-87.7 -41.7)">
<use href="#c_filler" fill="url(#cd4_orange)"/>
<use href="#c_brown" fill="#30a0e8" stroke="#30a0e8" stroke-width="1.2" stroke-linejoin="round"/>
<use href="#c_notch" fill="#fff" fill-opacity="0.3"/><use href="#c_notchtop" fill="#fff" fill-opacity="0.55"/>
<use href="#c_orange" fill="url(#cd4_orange)" stroke="url(#cd4_orange)" stroke-width="1.2" stroke-linejoin="round"/>
<use href="#c_blue" fill="#2492ea" stroke="#2492ea" stroke-width="1.2" stroke-linejoin="round"/>
<use href="#c_red" fill="#2896ea" stroke="#2896ea" stroke-width="1.2" stroke-linejoin="round"/>
<use href="#c_grey" fill="#2a9cea" stroke="#2a9cea" stroke-width="1.2" stroke-linejoin="round"/>
<use href="#c_green" fill="#f61a0a" stroke="#f61a0a" stroke-width="0.5" stroke-linejoin="round"/>
<use href="#c_purple" fill="#f8300c" stroke="#f8300c" stroke-width="0.5" stroke-linejoin="round"/>
<use href="#c_pink" fill="url(#cd4_pink)" stroke="url(#cd4_pink)" stroke-width="0.5" stroke-linejoin="round"/>
<g clip-path="url(#cp_blue)"><rect x="84" y="38" width="114" height="114" filter="url(#nz)" opacity="0.38"/></g>
<g clip-path="url(#cp_red)"><rect x="84" y="38" width="114" height="114" filter="url(#nz)" opacity="0.38"/></g>
<g clip-path="url(#cp_grey)"><rect x="84" y="38" width="114" height="114" filter="url(#nz)" opacity="0.38"/></g>
<g clip-path="url(#cp_brown)"><rect x="84" y="38" width="114" height="114" filter="url(#nz)" opacity="0.38"/></g>
</g>
<text x="152.0" y="183" font-size="10.6" text-anchor="end" fill="#111">CD4</text>
<rect x="169.8" y="167.4" width="112.4" height="114" fill="#fff" stroke="#333" stroke-width="1"/>
<rect x="283.1" y="167" width="3.7" height="114.8" fill="url(#jetbar)"/>
<g transform="translate(172.80 170.50) scale(1.0180) translate(-87.7 -41.7)">
<use href="#c_filler" fill="url(#cd8_main)"/>
<use href="#c_brown" fill="#1062ee" stroke="#1062ee" stroke-width="1.2" stroke-linejoin="round"/>
<use href="#c_notch" fill="#fff" fill-opacity="0.3"/><use href="#c_notchtop" fill="#fff" fill-opacity="0.55"/>
<use href="#c_orange" fill="url(#cd8_main)" stroke="url(#cd8_main)" stroke-width="1.2" stroke-linejoin="round"/>
<use href="#c_blue" fill="url(#cd8_main)" stroke="url(#cd8_main)" stroke-width="1.2" stroke-linejoin="round"/>
<use href="#c_red" fill="url(#cd8_main)" stroke="url(#cd8_main)" stroke-width="1.2" stroke-linejoin="round"/>
<use href="#c_grey" fill="url(#cd8_grey)" stroke="url(#cd8_grey)" stroke-width="1.2" stroke-linejoin="round"/>
<use href="#c_green" fill="url(#cd8_green)" stroke="url(#cd8_green)" stroke-width="0.5" stroke-linejoin="round"/>
<use href="#c_purple" fill="url(#cd8_green)" stroke="url(#cd8_green)" stroke-width="0.5" stroke-linejoin="round"/>
<use href="#c_pink" fill="#1c72e2" stroke="#1c72e2" stroke-width="0.5" stroke-linejoin="round"/>
<g clip-path="url(#cp_brown)"><rect x="84" y="38" width="114" height="114" filter="url(#nz)" opacity="0.38"/></g>
<g clip-path="url(#cp_grey)"><rect x="84" y="38" width="114" height="114" filter="url(#nz)" opacity="0.38"/></g>
<g clip-path="url(#cp_green)"><rect x="84" y="38" width="114" height="114" filter="url(#nz)" opacity="0.38"/></g>
<g clip-path="url(#cp_purple)"><rect x="84" y="38" width="114" height="114" filter="url(#nz)" opacity="0.38"/></g>
</g>
<text x="273.0" y="183" font-size="10.6" text-anchor="end" fill="#111">CD8</text>
<rect x="290.6" y="167.4" width="111.8" height="114" fill="#fff" stroke="#333" stroke-width="1"/>
<rect x="403.3" y="167" width="3.7" height="114.8" fill="url(#jetbar)"/>
<g transform="translate(293.30 170.50) scale(1.0180) translate(-87.7 -41.7)">
<use href="#c_filler" fill="#1a72e2"/>
<use href="#c_brown" fill="url(#c11_brown)" stroke="url(#c11_brown)" stroke-width="1.2" stroke-linejoin="round"/>
<use href="#c_notch" fill="#fff" fill-opacity="0.3"/><use href="#c_notchtop" fill="#fff" fill-opacity="0.55"/>
<use href="#c_orange" fill="#1a72e2" stroke="#1a72e2" stroke-width="1.2" stroke-linejoin="round"/>
<use href="#c_blue" fill="#1a72e2" stroke="#1a72e2" stroke-width="1.2" stroke-linejoin="round"/>
<use href="#c_red" fill="#2088e4" stroke="#2088e4" stroke-width="1.2" stroke-linejoin="round"/>
<use href="#c_grey" fill="url(#c11_grey)" stroke="url(#c11_grey)" stroke-width="1.2" stroke-linejoin="round"/>
<use href="#c_green" fill="#1c76e2" stroke="#1c76e2" stroke-width="0.5" stroke-linejoin="round"/>
<use href="#c_purple" fill="#1062ee" stroke="#1062ee" stroke-width="0.5" stroke-linejoin="round"/>
<use href="#c_pink" fill="url(#c11_pink)" stroke="url(#c11_pink)" stroke-width="0.5" stroke-linejoin="round"/>
<g clip-path="url(#cp_blue)"><rect x="84" y="38" width="114" height="114" filter="url(#nz)" opacity="0.38"/></g>
<g clip-path="url(#cp_red)"><rect x="84" y="38" width="114" height="114" filter="url(#nz)" opacity="0.38"/></g>
<g clip-path="url(#cp_green)"><rect x="84" y="38" width="114" height="114" filter="url(#nz)" opacity="0.38"/></g>
<g clip-path="url(#cp_brown)"><rect x="84" y="38" width="114" height="114" filter="url(#nz)" opacity="0.38"/></g>
</g>
<text x="394.0" y="183" font-size="10.6" text-anchor="end" fill="#111">CD11c</text>
<rect x="410.3" y="167.4" width="113.4" height="114" fill="#fff" stroke="#333" stroke-width="1"/>
<rect x="524.6" y="167" width="3.7" height="114.8" fill="url(#jetbar)"/>
<g transform="translate(414.00 170.50) scale(1.0180) translate(-87.7 -41.7)">
<use href="#c_filler" fill="#1c7ae4"/>
<use href="#c_brown" fill="#2a9ce4" stroke="#2a9ce4" stroke-width="1.2" stroke-linejoin="round"/>
<use href="#c_notch" fill="#fff" fill-opacity="0.3"/><use href="#c_notchtop" fill="#fff" fill-opacity="0.55"/>
<use href="#c_orange" fill="#1c7ae4" stroke="#1c7ae4" stroke-width="1.2" stroke-linejoin="round"/>
<use href="#c_blue" fill="url(#c56_blue)" stroke="url(#c56_blue)" stroke-width="1.2" stroke-linejoin="round"/>
<use href="#c_red" fill="#2290e4" stroke="#2290e4" stroke-width="1.2" stroke-linejoin="round"/>
<use href="#c_grey" fill="url(#c56_grey)" stroke="url(#c56_grey)" stroke-width="1.2" stroke-linejoin="round"/>
<use href="#c_green" fill="#1c7ae4" stroke="#1c7ae4" stroke-width="0.5" stroke-linejoin="round"/>
<use href="#c_purple" fill="#2498e8" stroke="#2498e8" stroke-width="0.5" stroke-linejoin="round"/>
<use href="#c_pink" fill="url(#c56_pink)" stroke="url(#c56_pink)" stroke-width="0.5" stroke-linejoin="round"/>
<g clip-path="url(#cp_blue)"><rect x="84" y="38" width="114" height="114" filter="url(#nz)" opacity="0.38"/></g>
<g clip-path="url(#cp_orange)"><rect x="84" y="38" width="114" height="114" filter="url(#nz)" opacity="0.38"/></g>
<g clip-path="url(#cp_red)"><rect x="84" y="38" width="114" height="114" filter="url(#nz)" opacity="0.38"/></g>
<g clip-path="url(#cp_brown)"><rect x="84" y="38" width="114" height="114" filter="url(#nz)" opacity="0.38"/></g>
<g clip-path="url(#cp_green)"><rect x="84" y="38" width="114" height="114" filter="url(#nz)" opacity="0.38"/></g>
<g clip-path="url(#cp_purple)"><rect x="84" y="38" width="114" height="114" filter="url(#nz)" opacity="0.38"/></g>
</g>
<text x="514.0" y="183" font-size="10.6" text-anchor="end" fill="#111">CD56</text>
<text x="531" y="174.6" font-size="7.8" fill="#111">10<tspan dy="-3.2" font-size="5">6</tspan></text>
<rect x="528" y="171.5" width="2" height="0.7" fill="#333"/>
<text x="531" y="209.8" font-size="7.8" fill="#111">10<tspan dy="-3.2" font-size="5">5</tspan></text>
<rect x="528" y="206.7" width="2" height="0.7" fill="#333"/>
<text x="531" y="243.3" font-size="7.8" fill="#111">10<tspan dy="-3.2" font-size="5">4</tspan></text>
<rect x="528" y="240.2" width="2" height="0.7" fill="#333"/>
<text x="531" y="263.3" font-size="7.8" fill="#111">0</text>
<rect x="528" y="260.2" width="2" height="0.7" fill="#333"/>
<text x="531" y="280.3" font-size="7.8" fill="#111">-10<tspan dy="-3.2" font-size="5">4</tspan></text>
<rect x="528" y="277.2" width="2" height="0.7" fill="#333"/>
<path d="M28.7 236.5V57" stroke="#111" stroke-width="1" fill="none"/><path d="M28.7 51.3l3.6 7.4h-7.2z" fill="#000"/>
<text transform="translate(32.3 260.5) rotate(-90)" font-size="10" text-anchor="middle" style="word-spacing:1.5px">UMAP 2</text>
<text x="48.4" y="309" font-size="10" style="word-spacing:1.5px">UMAP 1</text>
<path d="M93 304.6H428" stroke="#111" stroke-width="1" fill="none"/><path d="M434.5 304.6l-7.4 3.6v-7.2z" fill="#000"/>
<text x="5.5" y="338.3" class="b" font-size="17.5">B</text>
<text x="37.6" y="330.3" font-size="10">Markers</text>
<path d="M37.8 371V335.7H75" stroke="#111" stroke-width="1" fill="none"/>
<path d="M80.6 335.7l-7.2 3.4v-6.8z" fill="#000"/><path d="M37.8 375.2l-3.4-7.2h6.8z" fill="#000"/>
<text transform="translate(30.6 350.5) rotate(-90)" font-size="10" text-anchor="middle">Clusters</text>
<rect x="121.30" y="362.20" width="115.64" height="160.38" fill="#0a6cc0"/>
<rect x="203.90" y="362.20" width="16.82" height="18.12" fill="#f98888"/>
<text x="100.4" y="373.4" font-size="11.4" textLength="10.6" lengthAdjust="spacingAndGlyphs">09</text>
<rect x="137.82" y="380.02" width="16.82" height="18.12" fill="#1076c6"/>
<rect x="187.38" y="380.02" width="16.82" height="18.12" fill="#6aa9da"/>
<rect x="203.90" y="380.02" width="16.82" height="18.12" fill="#1a80ca"/>
<rect x="220.42" y="380.02" width="16.82" height="18.12" fill="#1a80ca"/>
<text x="100.4" y="392.3" font-size="11.4" textLength="10.6" lengthAdjust="spacingAndGlyphs">06</text>
<rect x="137.82" y="397.84" width="16.82" height="18.12" fill="#fbe5e1"/>
<rect x="170.86" y="397.84" width="16.82" height="18.12" fill="#1a80ca"/>
<rect x="187.38" y="397.84" width="16.82" height="18.12" fill="#1076c6"/>
<rect x="203.90" y="397.84" width="16.82" height="18.12" fill="#fb1414"/>
<rect x="220.42" y="397.84" width="16.82" height="18.12" fill="#fb1414"/>
<text x="100.4" y="411.2" font-size="11.4" textLength="10.6" lengthAdjust="spacingAndGlyphs">07</text>
<rect x="121.30" y="415.66" width="16.82" height="18.12" fill="#f93c3c"/>
<rect x="137.82" y="415.66" width="16.82" height="18.12" fill="#fb1414"/>
<rect x="154.34" y="415.66" width="16.82" height="18.12" fill="#1a80ca"/>
<rect x="170.86" y="415.66" width="16.82" height="18.12" fill="#1a80ca"/>
<rect x="187.38" y="415.66" width="16.82" height="18.12" fill="#1a80ca"/>
<rect x="203.90" y="415.66" width="16.82" height="18.12" fill="#1076c6"/>
<rect x="220.42" y="415.66" width="16.82" height="18.12" fill="#5aa2d6"/>
<text x="100.4" y="429.7" font-size="11.4" textLength="10.6" lengthAdjust="spacingAndGlyphs">04</text>
<rect x="121.30" y="433.48" width="16.82" height="18.12" fill="#fa1c1c"/>
<rect x="137.82" y="433.48" width="16.82" height="18.12" fill="#f92626"/>
<rect x="154.34" y="433.48" width="16.82" height="18.12" fill="#1076c6"/>
<rect x="170.86" y="433.48" width="16.82" height="18.12" fill="#1a80ca"/>
<text x="100.4" y="448.2" font-size="11.4" textLength="10.6" lengthAdjust="spacingAndGlyphs">03</text>
<rect x="121.30" y="451.30" width="16.82" height="18.12" fill="#fb1414"/>
<rect x="137.82" y="451.30" width="16.82" height="18.12" fill="#1076c6"/>
<rect x="154.34" y="451.30" width="16.82" height="18.12" fill="#2489cc"/>
<rect x="170.86" y="451.30" width="16.82" height="18.12" fill="#fb1414"/>
<rect x="187.38" y="451.30" width="16.82" height="18.12" fill="#1e86cc"/>
<rect x="203.90" y="451.30" width="16.82" height="18.12" fill="#a9cce8"/>
<rect x="220.42" y="451.30" width="16.82" height="18.12" fill="#b2d0ea"/>
<text x="100.4" y="466.9" font-size="11.4" textLength="10.6" lengthAdjust="spacingAndGlyphs">05</text>
<rect x="121.30" y="469.12" width="16.82" height="18.12" fill="#1076c6"/>
<rect x="154.34" y="469.12" width="16.82" height="18.12" fill="#1a80ca"/>
<rect x="170.86" y="469.12" width="16.82" height="18.12" fill="#1076c6"/>
<rect x="187.38" y="469.12" width="16.82" height="18.12" fill="#fb1414"/>
<rect x="203.90" y="469.12" width="16.82" height="18.12" fill="#b4d2ea"/>
<rect x="220.42" y="469.12" width="16.82" height="18.12" fill="#4f9bd3"/>
<text x="100.4" y="485.8" font-size="11.4" textLength="10.6" lengthAdjust="spacingAndGlyphs">08</text>
<rect x="121.30" y="486.94" width="16.82" height="18.12" fill="#f73e3e"/>
<rect x="137.82" y="486.94" width="16.82" height="18.12" fill="#1a80ca"/>
<rect x="154.34" y="486.94" width="16.82" height="18.12" fill="#f75252"/>
<rect x="187.38" y="486.94" width="16.82" height="18.12" fill="#1076c6"/>
<rect x="220.42" y="486.94" width="16.82" height="18.12" fill="#e9eff8"/>
<text x="100.4" y="504.6" font-size="11.4" textLength="10.6" lengthAdjust="spacingAndGlyphs">02</text>
<rect x="121.30" y="504.76" width="16.82" height="18.12" fill="#f53c3c"/>
<rect x="137.82" y="504.76" width="16.82" height="18.12" fill="#1076c6"/>
<rect x="154.34" y="504.76" width="16.82" height="18.12" fill="#f91616"/>
<rect x="187.38" y="504.76" width="16.82" height="18.12" fill="#1076c6"/>
<rect x="220.42" y="504.76" width="16.82" height="18.12" fill="#f9abab"/>
<text x="100.4" y="522.7" font-size="11.4" textLength="10.6" lengthAdjust="spacingAndGlyphs">01</text>
<text transform="translate(132.86 355) rotate(-90)" font-size="9.4">CD3</text>
<text transform="translate(149.38 355) rotate(-90)" font-size="9.4">CD4</text>
<text transform="translate(165.90 355) rotate(-90)" font-size="9.4">CD8</text>
<text transform="translate(182.42 355) rotate(-90)" font-size="9.4">TCRgd</text>
<text transform="translate(198.94 355) rotate(-90)" font-size="9.4">CD56</text>
<text transform="translate(215.46 355) rotate(-90)" font-size="9.4">CD11C</text>
<text transform="translate(231.98 355) rotate(-90)" font-size="9.4">CD163</text>
<text x="65" y="371.6" font-size="10.2">DCs</text>
<text x="34.8" y="410.5" font-size="10.2">Mono/DCs</text>
<text x="32.4" y="438" font-size="10.2">CD4<tspan dy="-3.2" font-size="6">+</tspan><tspan dy="3.2"> T cells</tspan></text>
<text x="42" y="465.8" font-size="10.2">γδ T cells</text>
<text x="45.8" y="485.8" font-size="10.2">NK cells</text>
<text x="27.6" y="512.3" font-size="10.2">CD8<tspan dy="-3.2" font-size="6">+</tspan><tspan dy="3.2"> T cells</tspan></text>
<rect x="94.5" y="420" width="1" height="31" fill="#777"/><rect x="94.5" y="492.6" width="1" height="31" fill="#777"/>
<text x="178" y="532.8" font-size="9.6" font-style="italic" text-anchor="middle">Column</text>
<rect x="139" y="534.2" width="71.5" height="7.2" fill="url(#hm)"/>
<text x="138" y="551" font-size="10" font-style="italic">min</text>
<text x="188.5" y="551" font-size="10" font-style="italic" textLength="22.5" lengthAdjust="spacingAndGlyphs">max</text>
<text x="251.5" y="338.3" class="b" font-size="17.5">C</text>
<rect x="291.8" y="393.5" width="205" height="0.8" fill="#ececec"/>
<rect x="291.8" y="434.3" width="205" height="0.8" fill="#ececec"/>
<rect x="291.8" y="475.8" width="205" height="0.8" fill="#ececec"/>
<rect x="343.6" y="353" width="0.8" height="164" fill="#ececec"/>
<rect x="460.0" y="353" width="0.8" height="164" fill="#ececec"/>
<path d="M300 409.5H497" stroke="#c2c2c2" stroke-width="1.1" stroke-dasharray="5 4" fill="none"/>
<rect x="401.4" y="353" width="1.1" height="172" fill="#9a9a9a"/>
<rect x="291.8" y="516.7" width="205.5" height="1.1" fill="#9a9a9a"/>
<text x="290.3" y="395.5" font-size="5.6" text-anchor="end" fill="#888">1.5</text>
<text x="290.3" y="436.3" font-size="5.6" text-anchor="end" fill="#888">1</text>
<text x="290.3" y="477.8" font-size="5.6" text-anchor="end" fill="#888">0.5</text>
<text x="290.3" y="519.2" font-size="5.6" text-anchor="end" fill="#888">0</text>
<text x="343.6" y="531" font-size="5.6" text-anchor="middle" fill="#888">-1</text>
<text x="402.0" y="531" font-size="5.6" text-anchor="middle" fill="#888">0</text>
<text x="460.4" y="531" font-size="5.6" text-anchor="middle" fill="#888">1</text>
<circle cx="323.2" cy="438.6" r="3.1" fill="#000"/>
<circle cx="385.9" cy="494.5" r="3.1" fill="#000"/>
<circle cx="391.8" cy="500.7" r="3.1" fill="#000"/>
<circle cx="446.8" cy="453.5" r="3.1" fill="#000"/>
<circle cx="428.5" cy="468.0" r="3.1" fill="#000"/>
<circle cx="418.2" cy="480.8" r="3.1" fill="#000"/>
<circle cx="418.7" cy="498.3" r="3.1" fill="#000"/>
<circle cx="359.4" cy="389.4" r="2.7" fill="#2be02b" stroke="#000" stroke-width="1.1"/>
<circle cx="447.6" cy="364.1" r="2.7" fill="#2be02b" stroke="#000" stroke-width="1.1"/>
<path d="M328.6 345.8L354.6 382.8M471.4 345.5L454 358.2" stroke="#000" stroke-width="1.4" fill="none"/>
<rect x="293.2" y="324.5" width="71.4" height="21.3" fill="#fff" stroke="#000" stroke-width="1.3"/>
<text x="329" y="339.2" font-size="10.4" text-anchor="middle">07 (DCs)</text>
<rect x="420.9" y="324" width="103" height="21.5" fill="#fff" stroke="#000" stroke-width="1.3"/>
<text x="472.6" y="339.2" font-size="10.4" text-anchor="middle">02 (CD8<tspan dy="-3.2" font-size="6">+</tspan><tspan dy="3.2"> T cells)</tspan></text>
<text transform="translate(275 424.8) rotate(-90)" font-size="9.8" text-anchor="middle" fill="#333" style="word-spacing:1px">-log10 (p-val)</text>
<text x="344" y="547.8" font-size="10" text-anchor="middle" fill="#f22626">Response</text>
<text x="400" y="543.8" font-size="10.3" text-anchor="middle" fill="#1a1a1a" style="word-spacing:0.6px">log2 FC</text>
<text x="452.6" y="548" font-size="10" text-anchor="middle" fill="#1f4f9f">Relapse</text>
<text x="5.8" y="573" class="b" font-size="17.5">D</text>
<rect x="48.4" y="638.8" width="11.6" height="54.6" fill="#ff0808"/>
<path d="M54.2 638.8V629.3M51.2 629.3H57.2" stroke="#ff0808" stroke-width="1" fill="none"/>
<rect x="65.4" y="642.5" width="11.6" height="50.9" fill="#0606ff"/>
<path d="M71.2 642.5V635.7M68.2 635.7H74.2" stroke="#0606ff" stroke-width="1" fill="none"/>
<rect x="96.1" y="652.0" width="11.6" height="41.4" fill="#ff0808"/>
<path d="M101.9 652.0V647.1M98.9 647.1H104.9" stroke="#ff0808" stroke-width="1" fill="none"/>
<rect x="113.1" y="630.3" width="11.6" height="63.1" fill="#0606ff"/>
<path d="M118.9 630.3V621.6M115.9 621.6H121.9" stroke="#0606ff" stroke-width="1" fill="none"/>
<rect x="142.3" y="681.6" width="11.6" height="11.8" fill="#ff0808"/>
<path d="M148.1 681.6V675.2M145.1 675.2H151.1" stroke="#ff0808" stroke-width="1" fill="none"/>
<rect x="159.3" y="687.8" width="11.6" height="5.6" fill="#0606ff"/>
<path d="M165.1 687.8V685.3M162.1 685.3H168.1" stroke="#0606ff" stroke-width="1" fill="none"/>
<rect x="188.6" y="676.0" width="11.6" height="17.4" fill="#ff0808"/>
<path d="M194.4 676.0V672.3M191.4 672.3H197.4" stroke="#ff0808" stroke-width="1" fill="none"/>
<rect x="205.6" y="671.1" width="11.6" height="22.3" fill="#0606ff"/>
<path d="M211.4 671.1V663.6M208.4 663.6H214.4" stroke="#0606ff" stroke-width="1" fill="none"/>
<rect x="236.0" y="630.5" width="11.6" height="62.9" fill="#ff0808"/>
<path d="M241.8 630.5V623.5M238.8 623.5H244.8" stroke="#ff0808" stroke-width="1" fill="none"/>
<rect x="253.0" y="656.8" width="11.6" height="36.6" fill="#0606ff"/>
<path d="M258.8 656.8V649.6M255.8 649.6H261.8" stroke="#0606ff" stroke-width="1" fill="none"/>
<circle cx="54.2" cy="587.9" r="1.6" fill="#fff" fill-opacity="0.92" stroke="#ff0808" stroke-width="0.85"/>
<circle cx="52.4" cy="595.2" r="1.6" fill="#fff" fill-opacity="0.92" stroke="#ff0808" stroke-width="0.85"/>
<circle cx="56.0" cy="622.7" r="1.6" fill="#fff" fill-opacity="0.92" stroke="#ff0808" stroke-width="0.85"/>
<circle cx="51.2" cy="637.6" r="1.6" fill="#fff" fill-opacity="0.92" stroke="#ff0808" stroke-width="0.85"/>
<circle cx="57.2" cy="640.7" r="1.6" fill="#fff" fill-opacity="0.92" stroke="#ff0808" stroke-width="0.85"/>
<circle cx="53.2" cy="652.7" r="1.6" fill="#fff" fill-opacity="0.92" stroke="#ff0808" stroke-width="0.85"/>
<circle cx="55.4" cy="654.1" r="1.6" fill="#fff" fill-opacity="0.92" stroke="#ff0808" stroke-width="0.85"/>
<circle cx="51.8" cy="659.3" r="1.6" fill="#fff" fill-opacity="0.92" stroke="#ff0808" stroke-width="0.85"/>
<circle cx="56.6" cy="659.7" r="1.6" fill="#fff" fill-opacity="0.92" stroke="#ff0808" stroke-width="0.85"/>
<circle cx="54.7" cy="663.8" r="1.6" fill="#fff" fill-opacity="0.92" stroke="#ff0808" stroke-width="0.85"/>
<circle cx="54.2" cy="663.4" r="1.6" fill="#fff" fill-opacity="0.92" stroke="#ff0808" stroke-width="0.85"/>
<rect x="69.6" y="627.7" width="3.2" height="3.2" fill="#fff" fill-opacity="0.92" stroke="#0606ff" stroke-width="0.95"/>
<rect x="67.8" y="627.7" width="3.2" height="3.2" fill="#fff" fill-opacity="0.92" stroke="#0606ff" stroke-width="0.95"/>
<rect x="71.4" y="632.9" width="3.2" height="3.2" fill="#fff" fill-opacity="0.92" stroke="#0606ff" stroke-width="0.95"/>
<rect x="66.6" y="641.1" width="3.2" height="3.2" fill="#fff" fill-opacity="0.92" stroke="#0606ff" stroke-width="0.95"/>
<rect x="72.6" y="647.3" width="3.2" height="3.2" fill="#fff" fill-opacity="0.92" stroke="#0606ff" stroke-width="0.95"/>
<rect x="68.6" y="655.6" width="3.2" height="3.2" fill="#fff" fill-opacity="0.92" stroke="#0606ff" stroke-width="0.95"/>
<rect x="70.8" y="660.8" width="3.2" height="3.2" fill="#fff" fill-opacity="0.92" stroke="#0606ff" stroke-width="0.95"/>
<circle cx="101.9" cy="617.9" r="1.6" fill="#fff" fill-opacity="0.92" stroke="#ff0808" stroke-width="0.85"/>
<circle cx="100.1" cy="638.6" r="1.6" fill="#fff" fill-opacity="0.92" stroke="#ff0808" stroke-width="0.85"/>
<circle cx="103.7" cy="648.9" r="1.6" fill="#fff" fill-opacity="0.92" stroke="#ff0808" stroke-width="0.85"/>
<circle cx="98.9" cy="650.0" r="1.6" fill="#fff" fill-opacity="0.92" stroke="#ff0808" stroke-width="0.85"/>
<circle cx="104.9" cy="651.0" r="1.6" fill="#fff" fill-opacity="0.92" stroke="#ff0808" stroke-width="0.85"/>
<circle cx="100.9" cy="657.2" r="1.6" fill="#fff" fill-opacity="0.92" stroke="#ff0808" stroke-width="0.85"/>
<circle cx="103.1" cy="659.3" r="1.6" fill="#fff" fill-opacity="0.92" stroke="#ff0808" stroke-width="0.85"/>
<circle cx="99.5" cy="663.4" r="1.6" fill="#fff" fill-opacity="0.92" stroke="#ff0808" stroke-width="0.85"/>
<circle cx="104.3" cy="667.5" r="1.6" fill="#fff" fill-opacity="0.92" stroke="#ff0808" stroke-width="0.85"/>
<circle cx="102.4" cy="668.6" r="1.6" fill="#fff" fill-opacity="0.92" stroke="#ff0808" stroke-width="0.85"/>
<rect x="117.3" y="596.7" width="3.2" height="3.2" fill="#fff" fill-opacity="0.92" stroke="#0606ff" stroke-width="0.95"/>
<rect x="115.5" y="604.9" width="3.2" height="3.2" fill="#fff" fill-opacity="0.92" stroke="#0606ff" stroke-width="0.95"/>
<rect x="119.1" y="612.2" width="3.2" height="3.2" fill="#fff" fill-opacity="0.92" stroke="#0606ff" stroke-width="0.95"/>
<rect x="114.3" y="626.7" width="3.2" height="3.2" fill="#fff" fill-opacity="0.92" stroke="#0606ff" stroke-width="0.95"/>
<rect x="120.3" y="638.0" width="3.2" height="3.2" fill="#fff" fill-opacity="0.92" stroke="#0606ff" stroke-width="0.95"/>
<rect x="116.3" y="646.3" width="3.2" height="3.2" fill="#fff" fill-opacity="0.92" stroke="#0606ff" stroke-width="0.95"/>
<rect x="118.5" y="649.4" width="3.2" height="3.2" fill="#fff" fill-opacity="0.92" stroke="#0606ff" stroke-width="0.95"/>
<rect x="114.9" y="662.8" width="3.2" height="3.2" fill="#fff" fill-opacity="0.92" stroke="#0606ff" stroke-width="0.95"/>
<circle cx="148.1" cy="624.5" r="1.6" fill="#fff" fill-opacity="0.92" stroke="#ff0808" stroke-width="0.85"/>
<circle cx="146.3" cy="678.9" r="1.6" fill="#fff" fill-opacity="0.92" stroke="#ff0808" stroke-width="0.85"/>
<circle cx="149.9" cy="684.1" r="1.6" fill="#fff" fill-opacity="0.92" stroke="#ff0808" stroke-width="0.85"/>
<circle cx="145.1" cy="685.5" r="1.6" fill="#fff" fill-opacity="0.92" stroke="#ff0808" stroke-width="0.85"/>
<circle cx="151.1" cy="688.2" r="1.6" fill="#fff" fill-opacity="0.92" stroke="#ff0808" stroke-width="0.85"/>
<circle cx="147.1" cy="689.7" r="1.6" fill="#fff" fill-opacity="0.92" stroke="#ff0808" stroke-width="0.85"/>
<circle cx="149.3" cy="690.9" r="1.6" fill="#fff" fill-opacity="0.92" stroke="#ff0808" stroke-width="0.85"/>
<circle cx="145.7" cy="691.7" r="1.6" fill="#fff" fill-opacity="0.92" stroke="#ff0808" stroke-width="0.85"/>
<circle cx="150.5" cy="692.4" r="1.6" fill="#fff" fill-opacity="0.92" stroke="#ff0808" stroke-width="0.85"/>
<circle cx="148.6" cy="692.8" r="1.6" fill="#fff" fill-opacity="0.92" stroke="#ff0808" stroke-width="0.85"/>
<rect x="163.5" y="678.4" width="3.2" height="3.2" fill="#fff" fill-opacity="0.92" stroke="#0606ff" stroke-width="0.95"/>
<rect x="161.7" y="681.9" width="3.2" height="3.2" fill="#fff" fill-opacity="0.92" stroke="#0606ff" stroke-width="0.95"/>
<rect x="165.3" y="684.6" width="3.2" height="3.2" fill="#fff" fill-opacity="0.92" stroke="#0606ff" stroke-width="0.95"/>
<rect x="160.5" y="686.0" width="3.2" height="3.2" fill="#fff" fill-opacity="0.92" stroke="#0606ff" stroke-width="0.95"/>
<rect x="166.5" y="687.3" width="3.2" height="3.2" fill="#fff" fill-opacity="0.92" stroke="#0606ff" stroke-width="0.95"/>
<rect x="162.5" y="688.5" width="3.2" height="3.2" fill="#fff" fill-opacity="0.92" stroke="#0606ff" stroke-width="0.95"/>
<rect x="164.7" y="689.3" width="3.2" height="3.2" fill="#fff" fill-opacity="0.92" stroke="#0606ff" stroke-width="0.95"/>
<rect x="161.1" y="690.4" width="3.2" height="3.2" fill="#fff" fill-opacity="0.92" stroke="#0606ff" stroke-width="0.95"/>
<circle cx="194.4" cy="662.0" r="1.6" fill="#fff" fill-opacity="0.92" stroke="#ff0808" stroke-width="0.85"/>
<circle cx="192.6" cy="669.6" r="1.6" fill="#fff" fill-opacity="0.92" stroke="#ff0808" stroke-width="0.85"/>
<circle cx="196.2" cy="672.7" r="1.6" fill="#fff" fill-opacity="0.92" stroke="#ff0808" stroke-width="0.85"/>
<circle cx="191.4" cy="674.8" r="1.6" fill="#fff" fill-opacity="0.92" stroke="#ff0808" stroke-width="0.85"/>
<circle cx="197.4" cy="675.8" r="1.6" fill="#fff" fill-opacity="0.92" stroke="#ff0808" stroke-width="0.85"/>
<circle cx="193.4" cy="676.9" r="1.6" fill="#fff" fill-opacity="0.92" stroke="#ff0808" stroke-width="0.85"/>
<circle cx="195.6" cy="678.9" r="1.6" fill="#fff" fill-opacity="0.92" stroke="#ff0808" stroke-width="0.85"/>
<circle cx="192.0" cy="681.4" r="1.6" fill="#fff" fill-opacity="0.92" stroke="#ff0808" stroke-width="0.85"/>
<circle cx="196.8" cy="686.8" r="1.6" fill="#fff" fill-opacity="0.92" stroke="#ff0808" stroke-width="0.85"/>
<circle cx="194.9" cy="688.2" r="1.6" fill="#fff" fill-opacity="0.92" stroke="#ff0808" stroke-width="0.85"/>
<rect x="209.8" y="656.6" width="3.2" height="3.2" fill="#fff" fill-opacity="0.92" stroke="#0606ff" stroke-width="0.95"/>
<rect x="208.0" y="657.7" width="3.2" height="3.2" fill="#fff" fill-opacity="0.92" stroke="#0606ff" stroke-width="0.95"/>
<rect x="211.6" y="659.7" width="3.2" height="3.2" fill="#fff" fill-opacity="0.92" stroke="#0606ff" stroke-width="0.95"/>
<rect x="206.8" y="665.9" width="3.2" height="3.2" fill="#fff" fill-opacity="0.92" stroke="#0606ff" stroke-width="0.95"/>
<rect x="212.8" y="670.1" width="3.2" height="3.2" fill="#fff" fill-opacity="0.92" stroke="#0606ff" stroke-width="0.95"/>
<rect x="208.8" y="672.2" width="3.2" height="3.2" fill="#fff" fill-opacity="0.92" stroke="#0606ff" stroke-width="0.95"/>
<rect x="211.0" y="687.7" width="3.2" height="3.2" fill="#fff" fill-opacity="0.92" stroke="#0606ff" stroke-width="0.95"/>
<rect x="207.4" y="688.7" width="3.2" height="3.2" fill="#fff" fill-opacity="0.92" stroke="#0606ff" stroke-width="0.95"/>
<circle cx="241.8" cy="589.0" r="1.6" fill="#fff" fill-opacity="0.92" stroke="#ff0808" stroke-width="0.85"/>
<circle cx="240.0" cy="603.9" r="1.6" fill="#fff" fill-opacity="0.92" stroke="#ff0808" stroke-width="0.85"/>
<circle cx="243.6" cy="623.1" r="1.6" fill="#fff" fill-opacity="0.92" stroke="#ff0808" stroke-width="0.85"/>
<circle cx="238.8" cy="632.4" r="1.6" fill="#fff" fill-opacity="0.92" stroke="#ff0808" stroke-width="0.85"/>
<circle cx="244.8" cy="634.5" r="1.6" fill="#fff" fill-opacity="0.92" stroke="#ff0808" stroke-width="0.85"/>
<circle cx="240.8" cy="637.6" r="1.6" fill="#fff" fill-opacity="0.92" stroke="#ff0808" stroke-width="0.85"/>
<circle cx="243.0" cy="641.7" r="1.6" fill="#fff" fill-opacity="0.92" stroke="#ff0808" stroke-width="0.85"/>
<circle cx="239.4" cy="646.9" r="1.6" fill="#fff" fill-opacity="0.92" stroke="#ff0808" stroke-width="0.85"/>
<circle cx="244.2" cy="651.0" r="1.6" fill="#fff" fill-opacity="0.92" stroke="#ff0808" stroke-width="0.85"/>
<circle cx="242.3" cy="653.1" r="1.6" fill="#fff" fill-opacity="0.92" stroke="#ff0808" stroke-width="0.85"/>
<rect x="257.2" y="618.4" width="3.2" height="3.2" fill="#fff" fill-opacity="0.92" stroke="#0606ff" stroke-width="0.95"/>
<rect x="255.4" y="634.9" width="3.2" height="3.2" fill="#fff" fill-opacity="0.92" stroke="#0606ff" stroke-width="0.95"/>
<rect x="259.0" y="643.2" width="3.2" height="3.2" fill="#fff" fill-opacity="0.92" stroke="#0606ff" stroke-width="0.95"/>
<rect x="254.2" y="652.5" width="3.2" height="3.2" fill="#fff" fill-opacity="0.92" stroke="#0606ff" stroke-width="0.95"/>
<rect x="260.2" y="665.9" width="3.2" height="3.2" fill="#fff" fill-opacity="0.92" stroke="#0606ff" stroke-width="0.95"/>
<rect x="256.2" y="666.6" width="3.2" height="3.2" fill="#fff" fill-opacity="0.92" stroke="#0606ff" stroke-width="0.95"/>
<rect x="258.4" y="668.0" width="3.2" height="3.2" fill="#fff" fill-opacity="0.92" stroke="#0606ff" stroke-width="0.95"/>
<rect x="254.8" y="669.1" width="3.2" height="3.2" fill="#fff" fill-opacity="0.92" stroke="#0606ff" stroke-width="0.95"/>
<circle cx="284.2" cy="693.2" r="1.6" fill="#fff" stroke="#ff0808" stroke-width="0.9"/>
<circle cx="287.0" cy="693.2" r="1.6" fill="#fff" stroke="#ff0808" stroke-width="0.9"/>
<circle cx="289.8" cy="693.2" r="1.6" fill="#fff" stroke="#ff0808" stroke-width="0.9"/>
<circle cx="292.6" cy="693.2" r="1.6" fill="#fff" stroke="#ff0808" stroke-width="0.9"/>
<circle cx="295.4" cy="693.2" r="1.6" fill="#fff" stroke="#ff0808" stroke-width="0.9"/>
<rect x="299.3" y="691.7" width="3.1" height="3.1" fill="#fff" stroke="#0606ff" stroke-width="0.9"/>
<rect x="302.1" y="691.7" width="3.1" height="3.1" fill="#fff" stroke="#0606ff" stroke-width="0.9"/>
<rect x="304.9" y="691.7" width="3.1" height="3.1" fill="#fff" stroke="#0606ff" stroke-width="0.9"/>
<rect x="307.7" y="691.7" width="3.1" height="3.1" fill="#fff" stroke="#0606ff" stroke-width="0.9"/>
<rect x="310.5" y="691.7" width="3.1" height="3.1" fill="#fff" stroke="#0606ff" stroke-width="0.9"/>
<path d="M42 568.4V693.5" stroke="#6e6e6e" stroke-width="1.2" fill="none"/><path d="M41.4 693.5H318" stroke="#1a1a1a" stroke-width="1.15" fill="none"/>
<path d="M39 569.3H42" stroke="#1a1a1a" stroke-width="1"/>
<text x="37.6" y="572.2" font-size="8.2" font-weight="bold" text-anchor="end" fill="#111">60</text>
<path d="M39 610.7H42" stroke="#1a1a1a" stroke-width="1"/>
<text x="37.6" y="613.6" font-size="8.2" font-weight="bold" text-anchor="end" fill="#111">40</text>
<path d="M39 652.1H42" stroke="#1a1a1a" stroke-width="1"/>
<text x="37.6" y="655.0" font-size="8.2" font-weight="bold" text-anchor="end" fill="#111">20</text>
<path d="M39 693.4H42" stroke="#1a1a1a" stroke-width="1"/>
<text x="37.6" y="696.3" font-size="8.2" font-weight="bold" text-anchor="end" fill="#111">0</text>
<path d="M62.8 693.4V696.8" stroke="#1a1a1a" stroke-width="1"/>
<text transform="translate(66.2 705.3) rotate(-45)" font-size="10.6" text-anchor="end" fill="#111">CD4<tspan dy="-3.6" dx="0.6" font-size="7.4">+</tspan><tspan dy="3.6" dx="0.8"> T cells</tspan></text>
<path d="M110.4 693.4V696.8" stroke="#1a1a1a" stroke-width="1"/>
<text transform="translate(113.8 705.3) rotate(-45)" font-size="10.6" text-anchor="end" fill="#111">CD8<tspan dy="-3.6" dx="0.6" font-size="7.4">+</tspan><tspan dy="3.6" dx="0.8"> T cells</tspan></text>
<path d="M156.7 693.4V696.8" stroke="#1a1a1a" stroke-width="1"/>
<text transform="translate(160.1 705.3) rotate(-45)" font-size="10.6" text-anchor="end" fill="#111">gd T cells</text>
<path d="M203.3 693.4V696.8" stroke="#1a1a1a" stroke-width="1"/>
<text transform="translate(206.7 705.3) rotate(-45)" font-size="10.6" text-anchor="end" fill="#111">NK cells</text>
<path d="M250.5 693.4V696.8" stroke="#1a1a1a" stroke-width="1"/>
<text transform="translate(253.9 705.3) rotate(-45)" font-size="10.6" text-anchor="end" fill="#111">DC</text>
<path d="M297.5 693.4V696.8" stroke="#1a1a1a" stroke-width="1"/>
<text transform="translate(300.9 705.3) rotate(-45)" font-size="10.6" text-anchor="end" fill="#111">Mono/macro</text>
<text transform="translate(24 629) rotate(-90)" font-size="9.2" text-anchor="middle" fill="#4a4a4a" style="letter-spacing:0.22px">% in live cells</text>
<path d="M96.2 602.7V582H117.2V588.5" stroke="#000" stroke-width="1.4" fill="none"/>
<text x="106.5" y="584.4" font-size="16" font-weight="bold" text-anchor="middle" fill="#000">*</text>
<path d="M240.7 583V577.3H261.4V610.7" stroke="#000" stroke-width="1.4" fill="none"/>
<text x="251.6" y="579.4" font-size="16" font-weight="bold" text-anchor="middle" fill="#000">*</text>
<circle cx="275" cy="574" r="1.7" fill="#fff" stroke="#ff0808" stroke-width="0.95"/>
<rect x="273.4" y="582.8" width="3.2" height="3.2" fill="#fff" stroke="#0606ff" stroke-width="0.95"/>
<text x="284" y="577.3" font-size="9.3" fill="#222">Response</text>
<text x="284" y="587.8" font-size="9.3" fill="#222">Relapse</text>
<text x="338" y="573" class="b" font-size="17.5">E</text>
<rect x="381.5" y="678.9" width="11.8" height="14.5" fill="#ff0808"/>
<path d="M387.4 678.9V674.4M384.4 674.4H390.4" stroke="#ff0808" stroke-width="1" fill="none"/>
<rect x="397.7" y="667.2" width="11.8" height="26.2" fill="#0606ff"/>
<path d="M403.6 667.2V661.3M400.6 661.3H406.6" stroke="#0606ff" stroke-width="1" fill="none"/>
<rect x="424.2" y="685.2" width="11.8" height="8.2" fill="#ff0808"/>
<path d="M430.1 685.2V682.2M427.1 682.2H433.1" stroke="#ff0808" stroke-width="1" fill="none"/>
<rect x="440.4" y="662.5" width="11.8" height="30.9" fill="#0606ff"/>
<path d="M446.3 662.5V650.1M443.3 650.1H449.3" stroke="#0606ff" stroke-width="1" fill="none"/>
<rect x="467.2" y="668.3" width="11.8" height="25.1" fill="#ff0808"/>
<path d="M473.1 668.3V662.5M470.1 662.5H476.1" stroke="#ff0808" stroke-width="1" fill="none"/>
<rect x="483.4" y="672.3" width="11.8" height="21.1" fill="#0606ff"/>
<path d="M489.3 672.3V668.2M486.3 668.2H492.3" stroke="#0606ff" stroke-width="1" fill="none"/>
<circle cx="387.4" cy="655.5" r="1.6" fill="#fff" fill-opacity="0.92" stroke="#ff0808" stroke-width="0.85"/>
<circle cx="385.6" cy="672.8" r="1.6" fill="#fff" fill-opacity="0.92" stroke="#ff0808" stroke-width="0.85"/>
<circle cx="389.2" cy="674.4" r="1.6" fill="#fff" fill-opacity="0.92" stroke="#ff0808" stroke-width="0.85"/>
<circle cx="384.4" cy="676.9" r="1.6" fill="#fff" fill-opacity="0.92" stroke="#ff0808" stroke-width="0.85"/>
<circle cx="390.4" cy="680.2" r="1.6" fill="#fff" fill-opacity="0.92" stroke="#ff0808" stroke-width="0.85"/>
<circle cx="386.4" cy="681.9" r="1.6" fill="#fff" fill-opacity="0.92" stroke="#ff0808" stroke-width="0.85"/>
<circle cx="388.6" cy="685.2" r="1.6" fill="#fff" fill-opacity="0.92" stroke="#ff0808" stroke-width="0.85"/>
<circle cx="385.0" cy="687.6" r="1.6" fill="#fff" fill-opacity="0.92" stroke="#ff0808" stroke-width="0.85"/>
<circle cx="389.8" cy="689.3" r="1.6" fill="#fff" fill-opacity="0.92" stroke="#ff0808" stroke-width="0.85"/>
<circle cx="387.9" cy="690.5" r="1.6" fill="#fff" fill-opacity="0.92" stroke="#ff0808" stroke-width="0.85"/>
<rect x="402.0" y="633.3" width="3.2" height="3.2" fill="#fff" fill-opacity="0.92" stroke="#0606ff" stroke-width="0.95"/>
<rect x="400.2" y="652.2" width="3.2" height="3.2" fill="#fff" fill-opacity="0.92" stroke="#0606ff" stroke-width="0.95"/>
<rect x="403.8" y="665.4" width="3.2" height="3.2" fill="#fff" fill-opacity="0.92" stroke="#0606ff" stroke-width="0.95"/>
<rect x="399.0" y="667.9" width="3.2" height="3.2" fill="#fff" fill-opacity="0.92" stroke="#0606ff" stroke-width="0.95"/>
<rect x="405.0" y="670.4" width="3.2" height="3.2" fill="#fff" fill-opacity="0.92" stroke="#0606ff" stroke-width="0.95"/>
<rect x="401.0" y="675.3" width="3.2" height="3.2" fill="#fff" fill-opacity="0.92" stroke="#0606ff" stroke-width="0.95"/>
<rect x="403.2" y="681.9" width="3.2" height="3.2" fill="#fff" fill-opacity="0.92" stroke="#0606ff" stroke-width="0.95"/>
<rect x="399.6" y="687.7" width="3.2" height="3.2" fill="#fff" fill-opacity="0.92" stroke="#0606ff" stroke-width="0.95"/>
<circle cx="430.1" cy="677.7" r="1.6" fill="#fff" fill-opacity="0.92" stroke="#ff0808" stroke-width="0.85"/>
<circle cx="428.3" cy="680.2" r="1.6" fill="#fff" fill-opacity="0.92" stroke="#ff0808" stroke-width="0.85"/>
<circle cx="431.9" cy="681.9" r="1.6" fill="#fff" fill-opacity="0.92" stroke="#ff0808" stroke-width="0.85"/>
<circle cx="427.1" cy="683.5" r="1.6" fill="#fff" fill-opacity="0.92" stroke="#ff0808" stroke-width="0.85"/>
<circle cx="433.1" cy="685.2" r="1.6" fill="#fff" fill-opacity="0.92" stroke="#ff0808" stroke-width="0.85"/>
<circle cx="429.1" cy="686.8" r="1.6" fill="#fff" fill-opacity="0.92" stroke="#ff0808" stroke-width="0.85"/>
<circle cx="431.3" cy="688.5" r="1.6" fill="#fff" fill-opacity="0.92" stroke="#ff0808" stroke-width="0.85"/>
<circle cx="427.7" cy="689.7" r="1.6" fill="#fff" fill-opacity="0.92" stroke="#ff0808" stroke-width="0.85"/>
<circle cx="432.5" cy="690.9" r="1.6" fill="#fff" fill-opacity="0.92" stroke="#ff0808" stroke-width="0.85"/>
<circle cx="430.6" cy="691.8" r="1.6" fill="#fff" fill-opacity="0.92" stroke="#ff0808" stroke-width="0.85"/>
<rect x="444.7" y="582.2" width="3.2" height="3.2" fill="#fff" fill-opacity="0.92" stroke="#0606ff" stroke-width="0.95"/>
<rect x="442.9" y="644.0" width="3.2" height="3.2" fill="#fff" fill-opacity="0.92" stroke="#0606ff" stroke-width="0.95"/>
<rect x="446.5" y="665.4" width="3.2" height="3.2" fill="#fff" fill-opacity="0.92" stroke="#0606ff" stroke-width="0.95"/>
<rect x="441.7" y="672.8" width="3.2" height="3.2" fill="#fff" fill-opacity="0.92" stroke="#0606ff" stroke-width="0.95"/>
<rect x="447.7" y="675.3" width="3.2" height="3.2" fill="#fff" fill-opacity="0.92" stroke="#0606ff" stroke-width="0.95"/>
<rect x="443.7" y="677.0" width="3.2" height="3.2" fill="#fff" fill-opacity="0.92" stroke="#0606ff" stroke-width="0.95"/>
<rect x="445.9" y="679.4" width="3.2" height="3.2" fill="#fff" fill-opacity="0.92" stroke="#0606ff" stroke-width="0.95"/>
<rect x="442.3" y="687.7" width="3.2" height="3.2" fill="#fff" fill-opacity="0.92" stroke="#0606ff" stroke-width="0.95"/>
<circle cx="473.1" cy="625.8" r="1.6" fill="#fff" fill-opacity="0.92" stroke="#ff0808" stroke-width="0.85"/>
<circle cx="471.3" cy="657.1" r="1.6" fill="#fff" fill-opacity="0.92" stroke="#ff0808" stroke-width="0.85"/>
<circle cx="474.9" cy="668.7" r="1.6" fill="#fff" fill-opacity="0.92" stroke="#ff0808" stroke-width="0.85"/>
<circle cx="470.1" cy="670.3" r="1.6" fill="#fff" fill-opacity="0.92" stroke="#ff0808" stroke-width="0.85"/>
<circle cx="476.1" cy="672.0" r="1.6" fill="#fff" fill-opacity="0.92" stroke="#ff0808" stroke-width="0.85"/>
<circle cx="472.1" cy="674.4" r="1.6" fill="#fff" fill-opacity="0.92" stroke="#ff0808" stroke-width="0.85"/>
<circle cx="474.3" cy="677.7" r="1.6" fill="#fff" fill-opacity="0.92" stroke="#ff0808" stroke-width="0.85"/>
<circle cx="470.7" cy="681.0" r="1.6" fill="#fff" fill-opacity="0.92" stroke="#ff0808" stroke-width="0.85"/>
<circle cx="475.5" cy="682.7" r="1.6" fill="#fff" fill-opacity="0.92" stroke="#ff0808" stroke-width="0.85"/>
<circle cx="473.6" cy="683.5" r="1.6" fill="#fff" fill-opacity="0.92" stroke="#ff0808" stroke-width="0.85"/>
<rect x="487.7" y="649.8" width="3.2" height="3.2" fill="#fff" fill-opacity="0.92" stroke="#0606ff" stroke-width="0.95"/>
<rect x="485.9" y="661.3" width="3.2" height="3.2" fill="#fff" fill-opacity="0.92" stroke="#0606ff" stroke-width="0.95"/>
<rect x="489.5" y="667.1" width="3.2" height="3.2" fill="#fff" fill-opacity="0.92" stroke="#0606ff" stroke-width="0.95"/>
<rect x="484.7" y="672.0" width="3.2" height="3.2" fill="#fff" fill-opacity="0.92" stroke="#0606ff" stroke-width="0.95"/>
<rect x="490.7" y="674.5" width="3.2" height="3.2" fill="#fff" fill-opacity="0.92" stroke="#0606ff" stroke-width="0.95"/>
<rect x="486.7" y="677.0" width="3.2" height="3.2" fill="#fff" fill-opacity="0.92" stroke="#0606ff" stroke-width="0.95"/>
<rect x="488.9" y="677.8" width="3.2" height="3.2" fill="#fff" fill-opacity="0.92" stroke="#0606ff" stroke-width="0.95"/>
<rect x="485.3" y="678.6" width="3.2" height="3.2" fill="#fff" fill-opacity="0.92" stroke="#0606ff" stroke-width="0.95"/>
<path d="M376.3 569.4V693.4" stroke="#444" stroke-width="1.2" fill="none"/><path d="M375.7 693.4H503" stroke="#1a1a1a" stroke-width="1.15" fill="none"/>
<path d="M373.3 569.4H376.3" stroke="#1a1a1a" stroke-width="1"/>
<text x="372" y="572.3" font-size="8.2" font-weight="bold" text-anchor="end" fill="#111">15</text>
<path d="M373.3 610.6H376.3" stroke="#1a1a1a" stroke-width="1"/>
<text x="372" y="613.5" font-size="8.2" font-weight="bold" text-anchor="end" fill="#111">10</text>
<path d="M373.3 651.8H376.3" stroke="#1a1a1a" stroke-width="1"/>
<text x="372" y="654.7" font-size="8.2" font-weight="bold" text-anchor="end" fill="#111">5</text>
<path d="M373.3 693.0H376.3" stroke="#1a1a1a" stroke-width="1"/>
<text x="372" y="695.9" font-size="8.2" font-weight="bold" text-anchor="end" fill="#111">0</text>
<path d="M395.6 693.4V696.8" stroke="#1a1a1a" stroke-width="1"/>
<text transform="translate(398.2 705.2) rotate(-45)" font-size="10.6" text-anchor="end" fill="#111">CD4<tspan dy="-3.6" dx="0.6" font-size="7.4">+</tspan><tspan dy="3.6" dx="0.8"> T cells</tspan></text>
<path d="M438.4 693.4V696.8" stroke="#1a1a1a" stroke-width="1"/>
<text transform="translate(441.0 705.2) rotate(-45)" font-size="10.6" text-anchor="end" fill="#111">CD8<tspan dy="-3.6" dx="0.6" font-size="7.4">+</tspan><tspan dy="3.6" dx="0.8"> T cells</tspan></text>
<path d="M481.4 693.4V696.8" stroke="#1a1a1a" stroke-width="1"/>
<text transform="translate(484.0 705.2) rotate(-45)" font-size="10.6" text-anchor="end" fill="#111">NK cells</text>
<text transform="translate(356.6 630.6) rotate(-90)" font-size="8.6" text-anchor="middle" fill="#222">% Ki67+</text>
<path d="M426 665.7V573H444.2V577.8" stroke="#000" stroke-width="1.4" fill="none"/>
<text x="435.5" y="575.6" font-size="15" font-weight="bold" text-anchor="middle" fill="#000">**</text>
</svg></body></html>
